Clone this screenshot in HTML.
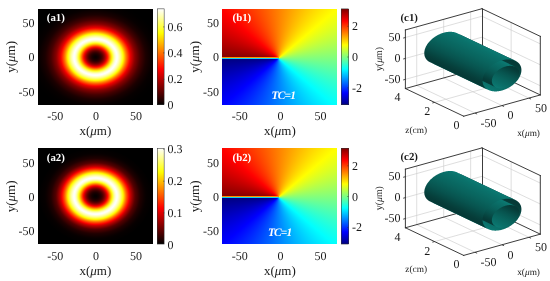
<!DOCTYPE html><html><head><meta charset="utf-8"><style>
html,body{margin:0;padding:0;background:#fff;}
body{width:550px;height:281px;position:relative;overflow:hidden;font-family:"Liberation Serif",serif;}
.pl{position:absolute;}
.cb{position:absolute;}
svg{position:absolute;left:0;top:0;}
text{font-family:"Liberation Serif",serif;}
text{stroke-width:0px;text-rendering:geometricPrecision;}
</style></head><body>
<div class="pl" style="left:38.00px;top:8.60px;width:115.00px;height:96.20px;background:radial-gradient(ellipse 76.94px 64.82px at 57.50px 48.10px,#070000 0.00%,#0c0000 1.56%,#130000 3.12%,#1d0000 4.69%,#2b0000 6.25%,#3f0000 7.81%,#590000 9.38%,#7b0000 10.94%,#a40000 12.50%,#d60000 14.06%,#ff1100 15.62%,#ff5000 17.19%,#ff9400 18.75%,#ffd700 20.31%,#ffff25 21.88%,#ffff7a 23.44%,#ffffbe 25.00%,#ffffeb 26.56%,#fffffe 28.12%,#ffffdc 29.69%,#ffffb1 31.25%,#ffff7e 32.81%,#ffff42 34.38%,#ffff04 35.94%,#ffcc00 37.50%,#ff9700 39.06%,#ff6800 40.62%,#ff3f00 42.19%,#ff1600 43.75%,#eb0000 45.31%,#d00000 46.88%,#b60000 48.44%,#9b0000 50.00%,#840000 51.56%,#750000 53.12%,#660000 54.69%,#570000 56.25%,#480000 57.81%,#3e0000 59.38%,#350000 60.94%,#2c0000 62.50%,#230000 64.06%,#1b0000 65.62%,#170000 67.19%,#130000 68.75%,#0f0000 70.31%,#0c0000 71.88%,#080000 73.44%,#060000 75.00%,#050000 76.56%,#040000 78.12%,#030000 79.69%,#020000 81.25%,#010000 82.81%,#010000 84.38%,#000000 85.94%,#000000 87.50%,#000000 89.06%,#000000 90.62%,#000000 92.19%,#000000 93.75%,#000000 95.31%,#000000 96.88%,#000000 98.44%,#000000 100.00%)"></div>
<div class="pl" style="left:222.40px;top:8.60px;width:114.90px;height:96.20px;overflow:hidden"><div style="position:absolute;left:0;top:0;width:142.00px;height:141.00px;transform-origin:0 0;transform:scale(0.80986,0.68227);background:conic-gradient(from 270deg at 69.64px 72.41px,#800000 0.00deg,#ff0000 45.00deg,#ffff00 135.00deg,#00ffff 225.00deg,#0000ff 315.00deg,#000080 360.00deg)"></div><div style="position:absolute;left:0;top:48.40px;width:56.40px;height:2.0px;background:linear-gradient(to bottom,#ff4c00 0%,#ffc700 45%,#1affe5 55%,#009eff 100%)"></div></div>
<div class="cb" style="left:157.20px;top:8.60px;width:7.20px;height:96.20px;background:linear-gradient(to top,#000000 0%,#ff0000 37.5%,#ffff00 75%,#ffffff 100%)"></div>
<div class="cb" style="left:341.40px;top:8.60px;width:7.20px;height:96.20px;background:linear-gradient(to top,#000080 0.0%,#0000ff 12.5%,#00ffff 37.5%,#ffff00 62.5%,#ff0000 87.5%,#800000 100.0%)"></div>
<div class="pl" style="left:38.00px;top:148.10px;width:115.00px;height:96.20px;background:radial-gradient(ellipse 76.94px 64.82px at 57.50px 48.10px,#050000 0.00%,#080000 1.56%,#0e0000 3.12%,#160000 4.69%,#220000 6.25%,#330000 7.81%,#4a0000 9.38%,#690000 10.94%,#900000 12.50%,#c10000 14.06%,#fa0000 15.62%,#ff3b00 17.19%,#ff8100 18.75%,#ffc800 20.31%,#ffff14 21.88%,#ffff6f 23.44%,#ffffb9 25.00%,#ffffea 26.56%,#fffffe 28.12%,#ffffdc 29.69%,#ffffb1 31.25%,#ffff7c 32.81%,#ffff3b 34.38%,#fffa00 35.94%,#ffbf00 37.50%,#ff8500 39.06%,#ff5100 40.62%,#ff2500 42.19%,#f70000 43.75%,#ca0000 45.31%,#aa0000 46.88%,#8c0000 48.44%,#6f0000 50.00%,#550000 51.56%,#480000 53.12%,#3c0000 54.69%,#2f0000 56.25%,#220000 57.81%,#1b0000 59.38%,#160000 60.94%,#100000 62.50%,#0b0000 64.06%,#070000 65.62%,#050000 67.19%,#040000 68.75%,#030000 70.31%,#020000 71.88%,#000000 73.44%,#000000 75.00%,#000000 76.56%,#000000 78.12%,#000000 79.69%,#000000 81.25%,#000000 82.81%,#000000 84.38%,#000000 85.94%,#000000 87.50%,#000000 89.06%,#000000 90.62%,#000000 92.19%,#000000 93.75%,#000000 95.31%,#000000 96.88%,#000000 98.44%,#000000 100.00%)"></div>
<div class="pl" style="left:222.40px;top:148.10px;width:114.90px;height:96.20px;overflow:hidden"><div style="position:absolute;left:0;top:0;width:142.00px;height:141.00px;transform-origin:0 0;transform:scale(0.80986,0.68227);background:conic-gradient(from 270deg at 69.64px 72.41px,#800000 0.00deg,#ff0000 45.00deg,#ffff00 135.00deg,#00ffff 225.00deg,#0000ff 315.00deg,#000080 360.00deg)"></div><div style="position:absolute;left:0;top:48.40px;width:56.40px;height:2.0px;background:linear-gradient(to bottom,#ff4c00 0%,#ffc700 45%,#1affe5 55%,#009eff 100%)"></div></div>
<div class="cb" style="left:157.20px;top:148.10px;width:7.20px;height:96.20px;background:linear-gradient(to top,#000000 0%,#ff0000 37.5%,#ffff00 75%,#ffffff 100%)"></div>
<div class="cb" style="left:341.40px;top:148.10px;width:7.20px;height:96.20px;background:linear-gradient(to top,#000080 0.0%,#0000ff 12.5%,#00ffff 37.5%,#ffff00 62.5%,#ff0000 87.5%,#800000 100.0%)"></div>
<svg width="550" height="281" viewBox="0 0 550 281">
<text x="34.60" y="27.40" text-anchor="end" font-size="12.00" font-weight="normal" font-style="normal" fill="#1a1a1a" stroke="#1a1a1a">50</text>
<text x="34.60" y="61.40" text-anchor="end" font-size="12.00" font-weight="normal" font-style="normal" fill="#1a1a1a" stroke="#1a1a1a">0</text>
<text x="34.60" y="95.50" text-anchor="end" font-size="12.00" font-weight="normal" font-style="normal" fill="#1a1a1a" stroke="#1a1a1a">-50</text>
<text x="55.30" y="120.20" text-anchor="middle" font-size="12.00" font-weight="normal" font-style="normal" fill="#1a1a1a" stroke="#1a1a1a">-50</text>
<text x="96.00" y="120.20" text-anchor="middle" font-size="12.00" font-weight="normal" font-style="normal" fill="#1a1a1a" stroke="#1a1a1a">0</text>
<text x="136.10" y="120.20" text-anchor="middle" font-size="12.00" font-weight="normal" font-style="normal" fill="#1a1a1a" stroke="#1a1a1a">50</text>
<text x="95.40" y="135.30" text-anchor="middle" font-size="13.00" font-weight="normal" font-style="normal" fill="#1a1a1a" stroke="#1a1a1a">x(<tspan font-style="italic">&#956;</tspan>m)</text>
<text x="14.70" y="56.90" text-anchor="middle" font-size="13.00" font-weight="normal" font-style="normal" fill="#1a1a1a" stroke="#1a1a1a" transform="rotate(-90 14.70 56.90)">y(<tspan font-style="italic">&#956;</tspan>m)</text>
<text x="219.10" y="27.40" text-anchor="end" font-size="12.00" font-weight="normal" font-style="normal" fill="#1a1a1a" stroke="#1a1a1a">50</text>
<text x="219.10" y="61.40" text-anchor="end" font-size="12.00" font-weight="normal" font-style="normal" fill="#1a1a1a" stroke="#1a1a1a">0</text>
<text x="219.10" y="95.50" text-anchor="end" font-size="12.00" font-weight="normal" font-style="normal" fill="#1a1a1a" stroke="#1a1a1a">-50</text>
<text x="239.80" y="120.20" text-anchor="middle" font-size="12.00" font-weight="normal" font-style="normal" fill="#1a1a1a" stroke="#1a1a1a">-50</text>
<text x="280.50" y="120.20" text-anchor="middle" font-size="12.00" font-weight="normal" font-style="normal" fill="#1a1a1a" stroke="#1a1a1a">0</text>
<text x="320.60" y="120.20" text-anchor="middle" font-size="12.00" font-weight="normal" font-style="normal" fill="#1a1a1a" stroke="#1a1a1a">50</text>
<text x="279.90" y="135.30" text-anchor="middle" font-size="13.00" font-weight="normal" font-style="normal" fill="#1a1a1a" stroke="#1a1a1a">x(<tspan font-style="italic">&#956;</tspan>m)</text>
<text x="199.20" y="56.90" text-anchor="middle" font-size="13.00" font-weight="normal" font-style="normal" fill="#1a1a1a" stroke="#1a1a1a" transform="rotate(-90 199.20 56.90)">y(<tspan font-style="italic">&#956;</tspan>m)</text>
<text x="167.60" y="30.80" text-anchor="start" font-size="12.00" font-weight="normal" font-style="normal" fill="#1a1a1a" stroke="#1a1a1a">0.6</text>
<text x="167.60" y="56.90" text-anchor="start" font-size="12.00" font-weight="normal" font-style="normal" fill="#1a1a1a" stroke="#1a1a1a">0.4</text>
<text x="167.60" y="83.30" text-anchor="start" font-size="12.00" font-weight="normal" font-style="normal" fill="#1a1a1a" stroke="#1a1a1a">0.2</text>
<text x="167.60" y="109.40" text-anchor="start" font-size="12.00" font-weight="normal" font-style="normal" fill="#1a1a1a" stroke="#1a1a1a">0</text>
<text x="352.00" y="30.30" text-anchor="start" font-size="12.00" font-weight="normal" font-style="normal" fill="#1a1a1a" stroke="#1a1a1a">2</text>
<text x="352.00" y="61.00" text-anchor="start" font-size="12.00" font-weight="normal" font-style="normal" fill="#1a1a1a" stroke="#1a1a1a">0</text>
<text x="352.00" y="91.80" text-anchor="start" font-size="12.00" font-weight="normal" font-style="normal" fill="#1a1a1a" stroke="#1a1a1a">-2</text>
<text x="46.80" y="21.00" text-anchor="start" font-size="10.80" font-weight="bold" font-style="normal" fill="#fff" stroke="#fff">(a1)</text>
<text x="232.60" y="21.00" text-anchor="start" font-size="10.80" font-weight="bold" font-style="normal" fill="#fff" stroke="#fff">(b1)</text>
<text x="400.50" y="20.70" text-anchor="start" font-size="10.80" font-weight="bold" font-style="normal" fill="#1a1a1a" stroke="#1a1a1a">(c1)</text>
<text x="271.50" y="99.00" text-anchor="start" font-size="11.40" font-weight="bold" font-style="italic" fill="#fff" stroke="#fff" letter-spacing="-0.8">TC=1</text>
<text x="34.60" y="166.90" text-anchor="end" font-size="12.00" font-weight="normal" font-style="normal" fill="#1a1a1a" stroke="#1a1a1a">50</text>
<text x="34.60" y="200.90" text-anchor="end" font-size="12.00" font-weight="normal" font-style="normal" fill="#1a1a1a" stroke="#1a1a1a">0</text>
<text x="34.60" y="235.00" text-anchor="end" font-size="12.00" font-weight="normal" font-style="normal" fill="#1a1a1a" stroke="#1a1a1a">-50</text>
<text x="55.30" y="259.70" text-anchor="middle" font-size="12.00" font-weight="normal" font-style="normal" fill="#1a1a1a" stroke="#1a1a1a">-50</text>
<text x="96.00" y="259.70" text-anchor="middle" font-size="12.00" font-weight="normal" font-style="normal" fill="#1a1a1a" stroke="#1a1a1a">0</text>
<text x="136.10" y="259.70" text-anchor="middle" font-size="12.00" font-weight="normal" font-style="normal" fill="#1a1a1a" stroke="#1a1a1a">50</text>
<text x="95.40" y="274.80" text-anchor="middle" font-size="13.00" font-weight="normal" font-style="normal" fill="#1a1a1a" stroke="#1a1a1a">x(<tspan font-style="italic">&#956;</tspan>m)</text>
<text x="14.70" y="196.40" text-anchor="middle" font-size="13.00" font-weight="normal" font-style="normal" fill="#1a1a1a" stroke="#1a1a1a" transform="rotate(-90 14.70 196.40)">y(<tspan font-style="italic">&#956;</tspan>m)</text>
<text x="219.10" y="166.90" text-anchor="end" font-size="12.00" font-weight="normal" font-style="normal" fill="#1a1a1a" stroke="#1a1a1a">50</text>
<text x="219.10" y="200.90" text-anchor="end" font-size="12.00" font-weight="normal" font-style="normal" fill="#1a1a1a" stroke="#1a1a1a">0</text>
<text x="219.10" y="235.00" text-anchor="end" font-size="12.00" font-weight="normal" font-style="normal" fill="#1a1a1a" stroke="#1a1a1a">-50</text>
<text x="239.80" y="259.70" text-anchor="middle" font-size="12.00" font-weight="normal" font-style="normal" fill="#1a1a1a" stroke="#1a1a1a">-50</text>
<text x="280.50" y="259.70" text-anchor="middle" font-size="12.00" font-weight="normal" font-style="normal" fill="#1a1a1a" stroke="#1a1a1a">0</text>
<text x="320.60" y="259.70" text-anchor="middle" font-size="12.00" font-weight="normal" font-style="normal" fill="#1a1a1a" stroke="#1a1a1a">50</text>
<text x="279.90" y="274.80" text-anchor="middle" font-size="13.00" font-weight="normal" font-style="normal" fill="#1a1a1a" stroke="#1a1a1a">x(<tspan font-style="italic">&#956;</tspan>m)</text>
<text x="199.20" y="196.40" text-anchor="middle" font-size="13.00" font-weight="normal" font-style="normal" fill="#1a1a1a" stroke="#1a1a1a" transform="rotate(-90 199.20 196.40)">y(<tspan font-style="italic">&#956;</tspan>m)</text>
<text x="167.60" y="153.10" text-anchor="start" font-size="12.00" font-weight="normal" font-style="normal" fill="#1a1a1a" stroke="#1a1a1a">0.3</text>
<text x="167.60" y="185.10" text-anchor="start" font-size="12.00" font-weight="normal" font-style="normal" fill="#1a1a1a" stroke="#1a1a1a">0.2</text>
<text x="167.60" y="216.80" text-anchor="start" font-size="12.00" font-weight="normal" font-style="normal" fill="#1a1a1a" stroke="#1a1a1a">0.1</text>
<text x="167.60" y="249.10" text-anchor="start" font-size="12.00" font-weight="normal" font-style="normal" fill="#1a1a1a" stroke="#1a1a1a">0</text>
<text x="352.00" y="169.80" text-anchor="start" font-size="12.00" font-weight="normal" font-style="normal" fill="#1a1a1a" stroke="#1a1a1a">2</text>
<text x="352.00" y="200.50" text-anchor="start" font-size="12.00" font-weight="normal" font-style="normal" fill="#1a1a1a" stroke="#1a1a1a">0</text>
<text x="352.00" y="231.30" text-anchor="start" font-size="12.00" font-weight="normal" font-style="normal" fill="#1a1a1a" stroke="#1a1a1a">-2</text>
<text x="46.80" y="160.50" text-anchor="start" font-size="10.80" font-weight="bold" font-style="normal" fill="#fff" stroke="#fff">(a2)</text>
<text x="232.60" y="160.50" text-anchor="start" font-size="10.80" font-weight="bold" font-style="normal" fill="#fff" stroke="#fff">(b2)</text>
<text x="400.50" y="160.20" text-anchor="start" font-size="10.80" font-weight="bold" font-style="normal" fill="#1a1a1a" stroke="#1a1a1a">(c2)</text>
<text x="267.90" y="236.30" text-anchor="start" font-size="11.40" font-weight="bold" font-style="italic" fill="#fff" stroke="#fff" letter-spacing="-0.8">TC=1</text>
<rect x="157.45" y="8.85" width="6.70" height="95.70" fill="none" stroke="#333" stroke-width="0.55"/>
<path d="M163.00 26.90H164.40M163.00 52.90H164.40M163.00 79.30H164.40M347.20 26.30H348.60M347.20 57.00H348.60M347.20 87.90H348.60" stroke="#333" stroke-width="0.5" fill="none"/>
<rect x="341.65" y="8.85" width="6.70" height="95.70" fill="none" stroke="#333" stroke-width="0.55"/>
<rect x="157.45" y="148.35" width="6.70" height="95.70" fill="none" stroke="#333" stroke-width="0.55"/>
<path d="M163.00 149.20H164.40M163.00 181.20H164.40M163.00 212.90H164.40M347.20 165.80H348.60M347.20 196.50H348.60M347.20 227.40H348.60" stroke="#333" stroke-width="0.5" fill="none"/>
<rect x="341.65" y="148.35" width="6.70" height="95.70" fill="none" stroke="#333" stroke-width="0.55"/>
<g><defs><linearGradient id="ag1" gradientUnits="userSpaceOnUse" x1="493.88" y1="92.57" x2="510.12" y2="58.31"><stop offset="0.0000" stop-color="#0b7d76"/><stop offset="0.0011" stop-color="#0b7c75"/><stop offset="0.0043" stop-color="#0b7b74"/><stop offset="0.0096" stop-color="#0b7a73"/><stop offset="0.0170" stop-color="#0b7972"/><stop offset="0.0265" stop-color="#0b7871"/><stop offset="0.0380" stop-color="#0b7770"/><stop offset="0.0515" stop-color="#0b766f"/><stop offset="0.0670" stop-color="#0b756e"/><stop offset="0.0842" stop-color="#0a746d"/><stop offset="0.1033" stop-color="#0a726b"/><stop offset="0.1241" stop-color="#0a716a"/><stop offset="0.1464" stop-color="#0a7069"/><stop offset="0.1703" stop-color="#0a6e68"/><stop offset="0.1956" stop-color="#0a6d67"/><stop offset="0.2222" stop-color="#0a6c65"/><stop offset="0.2500" stop-color="#0a6a64"/><stop offset="0.2788" stop-color="#096962"/><stop offset="0.3086" stop-color="#096761"/><stop offset="0.3392" stop-color="#09665f"/><stop offset="0.3706" stop-color="#09645e"/><stop offset="0.4024" stop-color="#09625c"/><stop offset="0.4347" stop-color="#09605a"/><stop offset="0.4673" stop-color="#085e58"/><stop offset="0.5000" stop-color="#085c56"/><stop offset="0.5327" stop-color="#085a54"/><stop offset="0.5652" stop-color="#085752"/><stop offset="0.5975" stop-color="#085550"/><stop offset="0.6294" stop-color="#07534e"/><stop offset="0.6607" stop-color="#07504b"/><stop offset="0.6913" stop-color="#074d49"/><stop offset="0.7211" stop-color="#074b46"/><stop offset="0.7500" stop-color="#064844"/><stop offset="0.7778" stop-color="#064641"/><stop offset="0.8044" stop-color="#06433f"/><stop offset="0.8296" stop-color="#06413d"/><stop offset="0.8535" stop-color="#063f3b"/><stop offset="0.8759" stop-color="#063d3a"/><stop offset="0.8967" stop-color="#053c38"/><stop offset="0.9157" stop-color="#053b38"/><stop offset="0.9330" stop-color="#053a37"/><stop offset="0.9484" stop-color="#053a37"/><stop offset="0.9619" stop-color="#053a37"/><stop offset="0.9735" stop-color="#053a37"/><stop offset="0.9830" stop-color="#053b37"/><stop offset="0.9904" stop-color="#053b38"/><stop offset="0.9957" stop-color="#053c38"/><stop offset="0.9989" stop-color="#053c39"/><stop offset="1.0000" stop-color="#063d3a"/></linearGradient><linearGradient id="ag2" gradientUnits="userSpaceOnUse" x1="496.25" y1="87.57" x2="507.75" y2="63.31"><stop offset="0.0000" stop-color="#0b7d76"/><stop offset="0.0011" stop-color="#0b7c75"/><stop offset="0.0043" stop-color="#0b7b74"/><stop offset="0.0096" stop-color="#0b7a73"/><stop offset="0.0170" stop-color="#0b7972"/><stop offset="0.0265" stop-color="#0b7871"/><stop offset="0.0380" stop-color="#0b7770"/><stop offset="0.0515" stop-color="#0b766f"/><stop offset="0.0670" stop-color="#0b756e"/><stop offset="0.0842" stop-color="#0a746d"/><stop offset="0.1033" stop-color="#0a726b"/><stop offset="0.1241" stop-color="#0a716a"/><stop offset="0.1464" stop-color="#0a7069"/><stop offset="0.1703" stop-color="#0a6e68"/><stop offset="0.1956" stop-color="#0a6d67"/><stop offset="0.2222" stop-color="#0a6c65"/><stop offset="0.2500" stop-color="#0a6a64"/><stop offset="0.2788" stop-color="#096962"/><stop offset="0.3086" stop-color="#096761"/><stop offset="0.3392" stop-color="#09665f"/><stop offset="0.3706" stop-color="#09645e"/><stop offset="0.4024" stop-color="#09625c"/><stop offset="0.4347" stop-color="#09605a"/><stop offset="0.4673" stop-color="#085e58"/><stop offset="0.5000" stop-color="#085c56"/><stop offset="0.5327" stop-color="#085a54"/><stop offset="0.5652" stop-color="#085752"/><stop offset="0.5975" stop-color="#085550"/><stop offset="0.6294" stop-color="#07534e"/><stop offset="0.6607" stop-color="#07504b"/><stop offset="0.6913" stop-color="#074d49"/><stop offset="0.7211" stop-color="#074b46"/><stop offset="0.7500" stop-color="#064844"/><stop offset="0.7778" stop-color="#064641"/><stop offset="0.8044" stop-color="#06433f"/><stop offset="0.8296" stop-color="#06413d"/><stop offset="0.8535" stop-color="#063f3b"/><stop offset="0.8759" stop-color="#063d3a"/><stop offset="0.8967" stop-color="#053c38"/><stop offset="0.9157" stop-color="#053b38"/><stop offset="0.9330" stop-color="#053a37"/><stop offset="0.9484" stop-color="#053a37"/><stop offset="0.9619" stop-color="#053a37"/><stop offset="0.9735" stop-color="#053a37"/><stop offset="0.9830" stop-color="#053b37"/><stop offset="0.9904" stop-color="#053b38"/><stop offset="0.9957" stop-color="#053c38"/><stop offset="0.9989" stop-color="#053c39"/><stop offset="1.0000" stop-color="#063d3a"/></linearGradient><linearGradient id="ag3" gradientUnits="userSpaceOnUse" x1="496.25" y1="87.57" x2="507.75" y2="63.31"><stop offset="0.0000" stop-color="#063d3a"/><stop offset="0.0011" stop-color="#053c39"/><stop offset="0.0043" stop-color="#053c38"/><stop offset="0.0096" stop-color="#053b38"/><stop offset="0.0170" stop-color="#053b37"/><stop offset="0.0265" stop-color="#053a37"/><stop offset="0.0381" stop-color="#053a37"/><stop offset="0.0516" stop-color="#053a37"/><stop offset="0.0670" stop-color="#053a37"/><stop offset="0.0843" stop-color="#053b38"/><stop offset="0.1033" stop-color="#053c38"/><stop offset="0.1241" stop-color="#063d3a"/><stop offset="0.1465" stop-color="#063f3b"/><stop offset="0.1704" stop-color="#06413d"/><stop offset="0.1956" stop-color="#06433f"/><stop offset="0.2222" stop-color="#064641"/><stop offset="0.2500" stop-color="#064844"/><stop offset="0.2789" stop-color="#074b46"/><stop offset="0.3087" stop-color="#074d49"/><stop offset="0.3393" stop-color="#07504b"/><stop offset="0.3706" stop-color="#07534e"/><stop offset="0.4025" stop-color="#085550"/><stop offset="0.4348" stop-color="#085752"/><stop offset="0.4673" stop-color="#085a54"/><stop offset="0.5000" stop-color="#085c56"/><stop offset="0.5327" stop-color="#085e58"/><stop offset="0.5653" stop-color="#09605a"/><stop offset="0.5976" stop-color="#09625c"/><stop offset="0.6294" stop-color="#09645e"/><stop offset="0.6608" stop-color="#09665f"/><stop offset="0.6914" stop-color="#096761"/><stop offset="0.7212" stop-color="#096962"/><stop offset="0.7500" stop-color="#0a6a64"/><stop offset="0.7778" stop-color="#0a6c65"/><stop offset="0.8044" stop-color="#0a6d67"/><stop offset="0.8297" stop-color="#0a6e68"/><stop offset="0.8536" stop-color="#0a7069"/><stop offset="0.8759" stop-color="#0a716a"/><stop offset="0.8967" stop-color="#0a726b"/><stop offset="0.9158" stop-color="#0a746d"/><stop offset="0.9330" stop-color="#0b756e"/><stop offset="0.9485" stop-color="#0b766f"/><stop offset="0.9620" stop-color="#0b7770"/><stop offset="0.9735" stop-color="#0b7871"/><stop offset="0.9830" stop-color="#0b7972"/><stop offset="0.9904" stop-color="#0b7a73"/><stop offset="0.9957" stop-color="#0b7b74"/><stop offset="0.9989" stop-color="#0b7c75"/><stop offset="1.0000" stop-color="#0b7d76"/></linearGradient><linearGradient id="ag4" gradientUnits="userSpaceOnUse" x1="493.88" y1="92.57" x2="510.12" y2="58.31"><stop offset="0.0000" stop-color="#063d3a"/><stop offset="0.0011" stop-color="#053c39"/><stop offset="0.0043" stop-color="#053c38"/><stop offset="0.0096" stop-color="#053b38"/><stop offset="0.0170" stop-color="#053b37"/><stop offset="0.0265" stop-color="#053a37"/><stop offset="0.0381" stop-color="#053a37"/><stop offset="0.0516" stop-color="#053a37"/><stop offset="0.0670" stop-color="#053a37"/><stop offset="0.0843" stop-color="#053b38"/><stop offset="0.1033" stop-color="#053c38"/><stop offset="0.1241" stop-color="#063d3a"/><stop offset="0.1465" stop-color="#063f3b"/><stop offset="0.1704" stop-color="#06413d"/><stop offset="0.1956" stop-color="#06433f"/><stop offset="0.2222" stop-color="#064641"/><stop offset="0.2500" stop-color="#064844"/><stop offset="0.2789" stop-color="#074b46"/><stop offset="0.3087" stop-color="#074d49"/><stop offset="0.3393" stop-color="#07504b"/><stop offset="0.3706" stop-color="#07534e"/><stop offset="0.4025" stop-color="#085550"/><stop offset="0.4348" stop-color="#085752"/><stop offset="0.4673" stop-color="#085a54"/><stop offset="0.5000" stop-color="#085c56"/><stop offset="0.5327" stop-color="#085e58"/><stop offset="0.5653" stop-color="#09605a"/><stop offset="0.5976" stop-color="#09625c"/><stop offset="0.6294" stop-color="#09645e"/><stop offset="0.6608" stop-color="#09665f"/><stop offset="0.6914" stop-color="#096761"/><stop offset="0.7212" stop-color="#096962"/><stop offset="0.7500" stop-color="#0a6a64"/><stop offset="0.7778" stop-color="#0a6c65"/><stop offset="0.8044" stop-color="#0a6d67"/><stop offset="0.8297" stop-color="#0a6e68"/><stop offset="0.8536" stop-color="#0a7069"/><stop offset="0.8759" stop-color="#0a716a"/><stop offset="0.8967" stop-color="#0a726b"/><stop offset="0.9158" stop-color="#0a746d"/><stop offset="0.9330" stop-color="#0b756e"/><stop offset="0.9485" stop-color="#0b766f"/><stop offset="0.9620" stop-color="#0b7770"/><stop offset="0.9735" stop-color="#0b7871"/><stop offset="0.9830" stop-color="#0b7972"/><stop offset="0.9904" stop-color="#0b7a73"/><stop offset="0.9957" stop-color="#0b7b74"/><stop offset="0.9989" stop-color="#0b7c75"/><stop offset="1.0000" stop-color="#0b7d76"/></linearGradient></defs><path d="M475.03 113.06L416.73 85.41M416.73 85.41L416.73 26.81M502.00 105.58L443.70 77.93M443.70 77.93L443.70 19.33M528.97 98.09L470.67 70.44M470.67 70.44L470.67 11.84M434.55 102.38L511.15 81.12M511.15 81.12L511.15 22.53M405.40 79.34L482.00 58.09M540.30 85.74L482.00 58.09M405.40 58.41L482.00 37.16M540.30 64.81L482.00 37.16M405.40 37.48L482.00 16.23M540.30 43.88L482.00 16.23" stroke="#cccccc" stroke-width="0.65" fill="none"/>
<path d="M405.40 88.55L482.00 67.30M482.00 67.30L540.30 94.95M482.50 67.30L482.50 8.70" stroke="#262626" stroke-width="0.9" fill="none"/>
<polygon points="430.19,62.36 430.43,62.47 430.68,62.58 430.94,62.69 431.19,62.78 431.45,62.88 431.72,62.97 431.99,63.06 432.26,63.14 432.54,63.21 432.81,63.29 433.10,63.35 433.38,63.42 433.67,63.47 433.96,63.53 434.26,63.57 434.55,63.62 434.86,63.66 435.16,63.69 435.46,63.72 435.77,63.74 436.08,63.76 436.40,63.78 436.71,63.79 437.03,63.79 437.35,63.79 437.67,63.78 437.99,63.77 438.32,63.76 438.64,63.74 438.97,63.71 439.30,63.69 439.63,63.65 439.96,63.61 440.30,63.57 440.63,63.52 440.97,63.46 441.30,63.41 441.64,63.34 441.98,63.28 442.31,63.20 442.65,63.13 442.99,63.04 443.33,62.96 443.67,62.87 444.01,62.77 444.35,62.67 444.68,62.56 445.02,62.45 445.36,62.34 445.70,62.22 446.03,62.10 446.37,61.97 446.71,61.84 447.04,61.71 447.37,61.57 447.71,61.42 448.04,61.27 448.37,61.12 448.70,60.96 449.02,60.80 449.35,60.64 449.67,60.47 449.99,60.30 450.31,60.12 450.63,59.94 450.95,59.76 451.26,59.57 451.57,59.38 451.88,59.19 452.18,58.99 452.49,58.79 452.79,58.58 453.09,58.38 453.38,58.16 453.67,57.95 453.96,57.73 454.25,57.51 454.53,57.29 454.81,57.06 455.09,56.83 455.36,56.60 455.63,56.37 455.90,56.13 456.16,55.89 456.42,55.65 456.67,55.40 456.92,55.16 457.17,54.91 457.41,54.66 457.65,54.40 457.88,54.15 458.11,53.89 458.34,53.63 458.56,53.37 458.77,53.11 458.98,52.84 459.19,52.58 459.39,52.31 459.59,52.04 459.78,51.77 459.97,51.50 460.15,51.23 460.33,50.96 460.50,50.68 460.67,50.41 460.83,50.13 460.99,49.85 461.14,49.58 461.29,49.30 461.43,49.02 461.56,48.74 461.69,48.46 461.82,48.18 461.94,47.91 462.05,47.63 462.16,47.35 462.26,47.07 462.36,46.79 462.45,46.51 462.54,46.23 462.61,45.95 462.69,45.68 462.76,45.40 462.82,45.12 462.88,44.85 462.93,44.58 462.97,44.30 463.01,44.03 463.04,43.76 463.07,43.49 463.09,43.22 463.11,42.95 463.12,42.69 463.12,42.43 463.12,42.16 463.11,41.90 463.09,41.64 463.07,41.39 463.05,41.13 463.02,40.88 462.98,40.63 462.94,40.38 462.89,40.13 462.83,39.89 462.77,39.65 462.70,39.41 462.63,39.17 462.55,38.94 462.47,38.71 462.38,38.48 462.28,38.25 462.18,38.03 462.07,37.81 461.96,37.59 461.84,37.38 461.72,37.17 461.59,36.96 461.45,36.76 461.31,36.56 461.17,36.36 461.02,36.16 460.86,35.97 460.70,35.79 460.53,35.61 460.36,35.43 460.19,35.25 460.00,35.08 459.82,34.91 459.63,34.75 459.43,34.59 459.23,34.43 459.02,34.28 458.81,34.13 458.60,33.99 458.38,33.85 458.15,33.71 457.92,33.58 457.69,33.46 457.45,33.33 457.21,33.22 515.51,60.87 515.75,60.98 515.99,61.11 516.22,61.23 516.45,61.36 516.68,61.50 516.90,61.64 517.11,61.78 517.32,61.93 517.53,62.08 517.73,62.24 517.93,62.40 518.12,62.56 518.30,62.73 518.49,62.90 518.66,63.08 518.83,63.26 519.00,63.44 519.16,63.62 519.32,63.81 519.47,64.01 519.61,64.21 519.75,64.41 519.89,64.61 520.02,64.82 520.14,65.03 520.26,65.24 520.37,65.46 520.48,65.68 520.58,65.90 520.68,66.13 520.77,66.36 520.85,66.59 520.93,66.82 521.00,67.06 521.07,67.30 521.13,67.54 521.19,67.78 521.24,68.03 521.28,68.28 521.32,68.53 521.35,68.78 521.37,69.04 521.39,69.29 521.41,69.55 521.42,69.81 521.42,70.08 521.42,70.34 521.41,70.60 521.39,70.87 521.37,71.14 521.34,71.41 521.31,71.68 521.27,71.95 521.23,72.23 521.18,72.50 521.12,72.77 521.06,73.05 520.99,73.33 520.91,73.60 520.84,73.88 520.75,74.16 520.66,74.44 520.56,74.72 520.46,75.00 520.35,75.28 520.24,75.56 520.12,75.83 519.99,76.11 519.86,76.39 519.73,76.67 519.59,76.95 519.44,77.23 519.29,77.50 519.13,77.78 518.97,78.06 518.80,78.33 518.63,78.61 518.45,78.88 518.27,79.15 518.08,79.42 517.89,79.69 517.69,79.96 517.49,80.23 517.28,80.49 517.07,80.76 516.86,81.02 516.64,81.28 516.41,81.54 516.18,81.80 515.95,82.05 515.71,82.31 515.47,82.56 515.22,82.81 514.97,83.05 514.72,83.30 514.46,83.54 514.20,83.78 513.93,84.02 513.66,84.25 513.39,84.48 513.11,84.71 512.83,84.94 512.55,85.16 512.26,85.38 511.97,85.60 511.68,85.81 511.39,86.03 511.09,86.23 510.79,86.44 510.48,86.64 510.18,86.84 509.87,87.03 509.56,87.22 509.25,87.41 508.93,87.59 508.61,87.77 508.29,87.95 507.97,88.12 507.65,88.29 507.32,88.45 507.00,88.61 506.67,88.77 506.34,88.92 506.01,89.07 505.67,89.22 505.34,89.36 505.01,89.49 504.67,89.62 504.33,89.75 504.00,89.87 503.66,89.99 503.32,90.10 502.98,90.21 502.65,90.32 502.31,90.42 501.97,90.52 501.63,90.61 501.29,90.69 500.95,90.78 500.61,90.85 500.28,90.93 499.94,90.99 499.60,91.06 499.27,91.11 498.93,91.17 498.60,91.22 498.26,91.26 497.93,91.30 497.60,91.34 497.27,91.36 496.94,91.39 496.62,91.41 496.29,91.42 495.97,91.43 495.65,91.44 495.33,91.44 495.01,91.44 494.70,91.43 494.38,91.41 494.07,91.39 493.76,91.37 493.46,91.34 493.16,91.31 492.85,91.27 492.56,91.22 492.26,91.18 491.97,91.12 491.68,91.07 491.40,91.00 491.11,90.94 490.84,90.86 490.56,90.79 490.29,90.71 490.02,90.62 489.75,90.53 489.49,90.43 489.24,90.34 488.98,90.23 488.73,90.12 488.49,90.01" fill="url(#ag1)"/>
<polygon points="434.13,58.11 434.30,58.19 434.48,58.27 434.66,58.34 434.84,58.41 435.03,58.48 435.21,58.54 435.40,58.60 435.60,58.66 435.79,58.71 435.99,58.77 436.19,58.81 436.39,58.86 436.60,58.90 436.80,58.94 437.01,58.97 437.22,59.00 437.43,59.03 437.65,59.05 437.87,59.07 438.08,59.09 438.30,59.10 438.53,59.11 438.75,59.12 438.97,59.12 439.20,59.12 439.43,59.12 439.66,59.11 439.89,59.10 440.12,59.09 440.35,59.07 440.58,59.05 440.82,59.02 441.05,59.00 441.29,58.97 441.53,58.93 441.76,58.89 442.00,58.85 442.24,58.81 442.48,58.76 442.72,58.71 442.96,58.65 443.20,58.59 443.44,58.53 443.68,58.47 443.92,58.40 444.16,58.33 444.40,58.25 444.64,58.18 444.88,58.10 445.12,58.01 445.35,57.93 445.59,57.84 445.83,57.74 446.07,57.65 446.30,57.55 446.54,57.44 446.77,57.34 447.01,57.23 447.24,57.12 447.47,57.01 447.70,56.89 447.93,56.77 448.16,56.65 448.38,56.52 448.61,56.40 448.83,56.27 449.05,56.13 449.27,56.00 449.49,55.86 449.71,55.72 449.92,55.58 450.14,55.43 450.35,55.29 450.56,55.14 450.77,54.99 450.97,54.83 451.17,54.68 451.37,54.52 451.57,54.36 451.77,54.20 451.96,54.03 452.15,53.87 452.34,53.70 452.52,53.53 452.71,53.36 452.89,53.18 453.06,53.01 453.24,52.83 453.41,52.65 453.58,52.47 453.74,52.29 453.91,52.11 454.07,51.93 454.22,51.74 454.38,51.56 454.53,51.37 454.67,51.18 454.82,50.99 454.95,50.80 455.09,50.61 455.22,50.42 455.35,50.23 455.48,50.03 455.60,49.84 455.72,49.64 455.83,49.45 455.95,49.25 456.05,49.06 456.16,48.86 456.26,48.66 456.35,48.46 456.45,48.27 456.53,48.07 456.62,47.87 456.70,47.67 456.78,47.48 456.85,47.28 456.92,47.08 456.98,46.88 457.04,46.69 457.10,46.49 457.15,46.29 457.20,46.10 457.24,45.90 457.28,45.71 457.32,45.51 457.35,45.32 457.38,45.13 457.40,44.93 457.42,44.74 457.44,44.55 457.45,44.36 457.45,44.18 457.46,43.99 457.45,43.80 457.45,43.62 457.44,43.44 457.42,43.25 457.41,43.07 457.38,42.89 457.36,42.72 457.32,42.54 457.29,42.37 457.25,42.19 457.21,42.02 457.16,41.85 457.11,41.68 457.05,41.52 456.99,41.35 456.93,41.19 456.86,41.03 456.79,40.88 456.71,40.72 456.63,40.57 456.55,40.41 456.46,40.27 456.37,40.12 456.28,39.97 456.18,39.83 456.07,39.69 455.97,39.55 455.86,39.42 455.74,39.29 455.62,39.16 455.50,39.03 455.38,38.91 455.25,38.79 455.12,38.67 454.98,38.55 454.84,38.44 454.70,38.33 454.55,38.22 454.40,38.11 454.25,38.01 454.10,37.91 453.94,37.82 453.78,37.73 453.61,37.64 453.44,37.55 453.27,37.47 515.22,66.84 515.39,66.93 515.55,67.01 515.72,67.10 515.88,67.20 516.04,67.29 516.20,67.39 516.35,67.49 516.50,67.60 516.64,67.71 516.79,67.82 516.92,67.93 517.06,68.04 517.19,68.16 517.32,68.29 517.45,68.41 517.57,68.54 517.69,68.67 517.80,68.80 517.91,68.93 518.02,69.07 518.12,69.21 518.22,69.35 518.31,69.50 518.41,69.64 518.49,69.79 518.58,69.94 518.66,70.10 518.73,70.25 518.80,70.41 518.87,70.57 518.94,70.73 519.00,70.90 519.05,71.06 519.10,71.23 519.15,71.40 519.19,71.57 519.23,71.74 519.27,71.92 519.30,72.09 519.33,72.27 519.35,72.45 519.37,72.63 519.38,72.81 519.39,73.00 519.40,73.18 519.40,73.37 519.40,73.55 519.39,73.74 519.38,73.93 519.36,74.12 519.35,74.31 519.32,74.50 519.29,74.70 519.26,74.89 519.23,75.08 519.19,75.28 519.14,75.48 519.09,75.67 519.04,75.87 518.99,76.06 518.92,76.26 518.86,76.46 518.79,76.66 518.72,76.85 518.64,77.05 518.56,77.25 518.48,77.45 518.39,77.64 518.30,77.84 518.20,78.04 518.10,78.24 518.00,78.43 517.89,78.63 517.78,78.83 517.66,79.02 517.55,79.22 517.42,79.41 517.30,79.60 517.17,79.80 517.04,79.99 516.90,80.18 516.76,80.37 516.62,80.56 516.47,80.75 516.32,80.94 516.17,81.12 516.01,81.31 515.85,81.49 515.69,81.67 515.52,81.85 515.35,82.03 515.18,82.21 515.01,82.39 514.83,82.56 514.65,82.73 514.47,82.91 514.28,83.08 514.09,83.24 513.90,83.41 513.71,83.57 513.52,83.74 513.32,83.90 513.12,84.05 512.91,84.21 512.71,84.36 512.50,84.52 512.29,84.67 512.08,84.81 511.87,84.96 511.65,85.10 511.44,85.24 511.22,85.38 511.00,85.51 510.78,85.65 510.55,85.78 510.33,85.90 510.10,86.03 509.87,86.15 509.64,86.27 509.41,86.39 509.18,86.50 508.95,86.61 508.72,86.72 508.48,86.82 508.25,86.92 508.01,87.02 507.77,87.12 507.54,87.21 507.30,87.30 507.06,87.39 506.82,87.47 506.58,87.55 506.34,87.63 506.10,87.71 505.86,87.78 505.62,87.85 505.38,87.91 505.14,87.97 504.90,88.03 504.66,88.08 504.42,88.14 504.18,88.18 503.94,88.23 503.71,88.27 503.47,88.31 503.23,88.34 503.00,88.37 502.76,88.40 502.53,88.43 502.29,88.45 502.06,88.47 501.83,88.48 501.60,88.49 501.37,88.50 501.14,88.50 500.92,88.50 500.69,88.50 500.47,88.49 500.25,88.48 500.03,88.47 499.81,88.45 499.59,88.43 499.38,88.41 499.17,88.38 498.96,88.35 498.75,88.31 498.54,88.28 498.34,88.24 498.13,88.19 497.93,88.14 497.74,88.09 497.54,88.04 497.35,87.98 497.16,87.92 496.97,87.86 496.78,87.79 496.60,87.72 496.42,87.64 496.25,87.57 496.07,87.49" fill="url(#ag2)"/>
<polygon points="453.27,37.47 453.10,37.39 452.92,37.31 452.74,37.24 452.56,37.17 452.37,37.10 452.19,37.03 452.00,36.97 451.80,36.92 451.61,36.86 451.41,36.81 451.21,36.76 451.01,36.72 450.80,36.68 450.60,36.64 450.39,36.61 450.18,36.57 449.97,36.55 449.75,36.52 449.53,36.50 449.32,36.49 449.10,36.47 448.87,36.46 448.65,36.46 448.43,36.45 448.20,36.45 447.97,36.46 447.74,36.46 447.51,36.47 447.28,36.49 447.05,36.51 446.82,36.53 446.58,36.55 446.35,36.58 446.11,36.61 445.87,36.65 445.64,36.68 445.40,36.72 445.16,36.77 444.92,36.82 444.68,36.87 444.44,36.92 444.20,36.98 443.96,37.04 443.72,37.11 443.48,37.18 443.24,37.25 443.00,37.32 442.76,37.40 442.52,37.48 442.28,37.56 442.05,37.65 441.81,37.74 441.57,37.83 441.33,37.93 441.10,38.03 440.86,38.13 440.63,38.24 440.39,38.34 440.16,38.46 439.93,38.57 439.70,38.69 439.47,38.80 439.24,38.93 439.02,39.05 438.79,39.18 438.57,39.31 438.35,39.44 438.13,39.58 437.91,39.71 437.69,39.85 437.48,40.00 437.26,40.14 437.05,40.29 436.84,40.44 436.63,40.59 436.43,40.74 436.23,40.90 436.03,41.06 435.83,41.22 435.63,41.38 435.44,41.54 435.25,41.71 435.06,41.88 434.88,42.05 434.69,42.22 434.51,42.39 434.34,42.57 434.16,42.74 433.99,42.92 433.82,43.10 433.66,43.28 433.49,43.46 433.33,43.65 433.18,43.83 433.02,44.02 432.87,44.21 432.73,44.39 432.58,44.58 432.45,44.77 432.31,44.96 432.18,45.16 432.05,45.35 431.92,45.54 431.80,45.74 431.68,45.93 431.57,46.13 431.45,46.32 431.35,46.52 431.24,46.72 431.14,46.91 431.05,47.11 430.95,47.31 430.87,47.51 430.78,47.70 430.70,47.90 430.62,48.10 430.55,48.30 430.48,48.50 430.42,48.69 430.36,48.89 430.30,49.09 430.25,49.28 430.20,49.48 430.16,49.67 430.12,49.87 430.08,50.06 430.05,50.26 430.02,50.45 430.00,50.64 429.98,50.83 429.96,51.02 429.95,51.21 429.95,51.40 429.94,51.59 429.95,51.77 429.95,51.96 429.96,52.14 429.98,52.32 429.99,52.50 430.02,52.68 430.04,52.86 430.08,53.04 430.11,53.21 430.15,53.38 430.19,53.55 430.24,53.72 430.29,53.89 430.35,54.06 430.41,54.22 430.47,54.38 430.54,54.54 430.61,54.70 430.69,54.86 430.77,55.01 430.85,55.16 430.94,55.31 431.03,55.46 431.12,55.60 431.22,55.74 431.33,55.88 431.43,56.02 431.54,56.16 431.66,56.29 431.78,56.42 431.90,56.54 432.02,56.67 432.15,56.79 432.28,56.91 432.42,57.03 432.56,57.14 432.70,57.25 432.85,57.36 433.00,57.46 433.15,57.56 433.30,57.66 433.46,57.76 433.62,57.85 433.79,57.94 433.96,58.03 434.13,58.11 496.07,87.49 495.90,87.40 495.73,87.32 495.57,87.23 495.41,87.13 495.25,87.04 495.09,86.94 494.94,86.84 494.79,86.73 494.64,86.63 494.50,86.52 494.36,86.40 494.23,86.29 494.09,86.17 493.97,86.05 493.84,85.92 493.72,85.80 493.60,85.67 493.49,85.53 493.38,85.40 493.27,85.26 493.17,85.12 493.07,84.98 492.97,84.84 492.88,84.69 492.79,84.54 492.71,84.39 492.63,84.23 492.55,84.08 492.48,83.92 492.41,83.76 492.35,83.60 492.29,83.44 492.24,83.27 492.18,83.10 492.14,82.93 492.09,82.76 492.05,82.59 492.02,82.41 491.99,82.24 491.96,82.06 491.94,81.88 491.92,81.70 491.91,81.52 491.90,81.33 491.89,81.15 491.89,80.96 491.89,80.78 491.90,80.59 491.91,80.40 491.92,80.21 491.94,80.02 491.97,79.83 491.99,79.63 492.03,79.44 492.06,79.25 492.10,79.05 492.15,78.86 492.19,78.66 492.25,78.46 492.30,78.27 492.36,78.07 492.43,77.87 492.50,77.68 492.57,77.48 492.64,77.28 492.73,77.08 492.81,76.88 492.90,76.69 492.99,76.49 493.09,76.29 493.19,76.10 493.29,75.90 493.40,75.70 493.51,75.51 493.62,75.31 493.74,75.12 493.86,74.92 493.99,74.73 494.12,74.53 494.25,74.34 494.39,74.15 494.53,73.96 494.67,73.77 494.82,73.58 494.97,73.40 495.12,73.21 495.28,73.03 495.44,72.84 495.60,72.66 495.76,72.48 495.93,72.30 496.10,72.12 496.28,71.95 496.46,71.77 496.64,71.60 496.82,71.43 497.00,71.26 497.19,71.09 497.38,70.92 497.58,70.76 497.77,70.60 497.97,70.44 498.17,70.28 498.37,70.12 498.58,69.97 498.79,69.82 498.99,69.67 499.21,69.52 499.42,69.37 499.63,69.23 499.85,69.09 500.07,68.95 500.29,68.82 500.51,68.69 500.74,68.56 500.96,68.43 501.19,68.30 501.41,68.18 501.64,68.06 501.87,67.95 502.11,67.83 502.34,67.72 502.57,67.61 502.81,67.51 503.04,67.41 503.28,67.31 503.51,67.21 503.75,67.12 503.99,67.03 504.23,66.94 504.47,66.86 504.71,66.78 504.95,66.70 505.19,66.63 505.43,66.55 505.67,66.49 505.91,66.42 506.15,66.36 506.39,66.30 506.63,66.25 506.87,66.20 507.10,66.15 507.34,66.10 507.58,66.06 507.82,66.02 508.05,65.99 508.29,65.96 508.53,65.93 508.76,65.91 508.99,65.88 509.23,65.87 509.46,65.85 509.69,65.84 509.92,65.84 510.14,65.83 510.37,65.83 510.59,65.83 510.82,65.84 511.04,65.85 511.26,65.86 511.48,65.88 511.69,65.90 511.91,65.93 512.12,65.95 512.33,65.98 512.54,66.02 512.75,66.06 512.95,66.10 513.15,66.14 513.35,66.19 513.55,66.24 513.75,66.29 513.94,66.35 514.13,66.41 514.32,66.48 514.50,66.54 514.69,66.61 514.86,66.69 515.04,66.76 515.22,66.84" fill="url(#ag3)"/>
<polygon points="457.21,33.22 456.97,33.10 456.72,32.99 456.46,32.89 456.21,32.79 455.95,32.70 455.68,32.61 455.41,32.52 455.14,32.44 454.86,32.36 454.59,32.29 454.30,32.22 454.02,32.16 453.73,32.10 453.44,32.05 453.14,32.00 452.85,31.96 452.54,31.92 452.24,31.89 451.94,31.86 451.63,31.83 451.32,31.81 451.00,31.80 450.69,31.79 450.37,31.79 450.05,31.79 449.73,31.79 449.41,31.80 449.08,31.82 448.76,31.84 448.43,31.86 448.10,31.89 447.77,31.92 447.44,31.96 447.10,32.01 446.77,32.06 446.43,32.11 446.10,32.17 445.76,32.23 445.42,32.30 445.09,32.37 444.75,32.45 444.41,32.53 444.07,32.62 443.73,32.71 443.39,32.81 443.05,32.91 442.72,33.01 442.38,33.12 442.04,33.24 441.70,33.35 441.37,33.48 441.03,33.60 440.69,33.73 440.36,33.87 440.03,34.01 439.69,34.15 439.36,34.30 439.03,34.46 438.70,34.61 438.38,34.77 438.05,34.94 437.73,35.11 437.41,35.28 437.09,35.45 436.77,35.63 436.45,35.82 436.14,36.00 435.83,36.20 435.52,36.39 435.22,36.59 434.91,36.79 434.61,36.99 434.31,37.20 434.02,37.41 433.73,37.63 433.44,37.84 433.15,38.06 432.87,38.29 432.59,38.51 432.31,38.74 432.04,38.97 431.77,39.21 431.50,39.45 431.24,39.68 430.98,39.93 430.73,40.17 430.48,40.42 430.23,40.67 429.99,40.92 429.75,41.17 429.52,41.43 429.29,41.68 429.06,41.94 428.84,42.20 428.63,42.47 428.42,42.73 428.21,43.00 428.01,43.26 427.81,43.53 427.62,43.80 427.43,44.07 427.25,44.35 427.07,44.62 426.90,44.89 426.73,45.17 426.57,45.44 426.41,45.72 426.26,46.00 426.11,46.28 425.97,46.55 425.84,46.83 425.71,47.11 425.58,47.39 425.46,47.67 425.35,47.95 425.24,48.23 425.14,48.51 425.04,48.79 424.95,49.07 424.86,49.34 424.79,49.62 424.71,49.90 424.64,50.17 424.58,50.45 424.52,50.73 424.47,51.00 424.43,51.27 424.39,51.54 424.36,51.82 424.33,52.09 424.31,52.35 424.29,52.62 424.28,52.89 424.28,53.15 424.28,53.41 424.29,53.67 424.31,53.93 424.33,54.19 424.35,54.44 424.38,54.70 424.42,54.95 424.46,55.20 424.51,55.44 424.57,55.69 424.63,55.93 424.70,56.17 424.77,56.40 424.85,56.64 424.93,56.87 425.02,57.10 425.12,57.32 425.22,57.55 425.33,57.77 425.44,57.98 425.56,58.20 425.68,58.41 425.81,58.62 425.95,58.82 426.09,59.02 426.23,59.22 426.38,59.41 426.54,59.60 426.70,59.79 426.87,59.97 427.04,60.15 427.21,60.33 427.40,60.50 427.58,60.66 427.77,60.83 427.97,60.99 428.17,61.14 428.38,61.30 428.59,61.44 428.80,61.59 429.02,61.73 429.25,61.86 429.48,61.99 429.71,62.12 429.95,62.24 430.19,62.36 488.49,90.01 488.25,89.89 488.01,89.77 487.78,89.64 487.55,89.51 487.32,89.38 487.10,89.24 486.89,89.09 486.68,88.95 486.47,88.79 486.27,88.64 486.07,88.48 485.88,88.31 485.70,88.15 485.51,87.98 485.34,87.80 485.17,87.62 485.00,87.44 484.84,87.25 484.68,87.06 484.53,86.87 484.39,86.67 484.25,86.47 484.11,86.27 483.98,86.06 483.86,85.85 483.74,85.63 483.63,85.42 483.52,85.20 483.42,84.97 483.32,84.75 483.23,84.52 483.15,84.29 483.07,84.05 483.00,83.82 482.93,83.58 482.87,83.34 482.81,83.09 482.76,82.85 482.72,82.60 482.68,82.35 482.65,82.09 482.63,81.84 482.61,81.58 482.59,81.32 482.58,81.06 482.58,80.80 482.58,80.54 482.59,80.27 482.61,80.00 482.63,79.74 482.66,79.47 482.69,79.19 482.73,78.92 482.77,78.65 482.82,78.38 482.88,78.10 482.94,77.82 483.01,77.55 483.09,77.27 483.16,76.99 483.25,76.72 483.34,76.44 483.44,76.16 483.54,75.88 483.65,75.60 483.76,75.32 483.88,75.04 484.01,74.76 484.14,74.48 484.27,74.20 484.41,73.93 484.56,73.65 484.71,73.37 484.87,73.09 485.03,72.82 485.20,72.54 485.37,72.27 485.55,72.00 485.73,71.72 485.92,71.45 486.11,71.18 486.31,70.91 486.51,70.65 486.72,70.38 486.93,70.12 487.14,69.85 487.36,69.59 487.59,69.33 487.82,69.08 488.05,68.82 488.29,68.57 488.53,68.32 488.78,68.07 489.03,67.82 489.28,67.58 489.54,67.33 489.80,67.10 490.07,66.86 490.34,66.62 490.61,66.39 490.89,66.16 491.17,65.94 491.45,65.71 491.74,65.49 492.03,65.28 492.32,65.06 492.61,64.85 492.91,64.64 493.21,64.44 493.52,64.24 493.82,64.04 494.13,63.85 494.44,63.65 494.75,63.47 495.07,63.28 495.39,63.10 495.71,62.93 496.03,62.76 496.35,62.59 496.68,62.42 497.00,62.26 497.33,62.11 497.66,61.95 497.99,61.80 498.33,61.66 498.66,61.52 498.99,61.38 499.33,61.25 499.67,61.13 500.00,61.00 500.34,60.89 500.68,60.77 501.02,60.66 501.35,60.56 501.69,60.46 502.03,60.36 502.37,60.27 502.71,60.18 503.05,60.10 503.39,60.02 503.72,59.95 504.06,59.88 504.40,59.82 504.73,59.76 505.07,59.71 505.40,59.66 505.74,59.61 506.07,59.57 506.40,59.54 506.73,59.51 507.06,59.49 507.38,59.47 507.71,59.45 508.03,59.44 508.35,59.44 508.67,59.44 508.99,59.44 509.30,59.45 509.62,59.46 509.93,59.48 510.24,59.51 510.54,59.54 510.84,59.57 511.15,59.61 511.44,59.65 511.74,59.70 512.03,59.75 512.32,59.81 512.60,59.87 512.89,59.94 513.16,60.01 513.44,60.09 513.71,60.17 513.98,60.26 514.25,60.35 514.51,60.44 514.76,60.54 515.02,60.64 515.27,60.75 515.51,60.87" fill="url(#ag4)"/>
<path d="M405.40 88.55L463.70 116.20M463.70 116.20L540.30 94.95M405.40 88.55L405.40 29.95M405.40 29.95L482.00 8.70M482.00 8.70L540.30 36.35M540.30 94.95L540.30 36.35" stroke="#262626" stroke-width="0.9" fill="none" stroke-linecap="square"/>
<path d="M405.40 79.34L403.18 79.96M405.40 58.41L403.18 59.03M405.40 37.48L403.18 38.10M434.55 102.38L432.33 102.99M475.03 113.06L477.11 114.04M502.00 105.58L504.08 106.56M528.97 98.09L531.05 99.08" stroke="#262626" stroke-width="0.8" fill="none"/>
<text x="400.60" y="40.90" text-anchor="end" font-size="12.00" font-weight="normal" fill="#1a1a1a" stroke="#1a1a1a">50</text>
<text x="400.60" y="62.00" text-anchor="end" font-size="12.00" font-weight="normal" fill="#1a1a1a" stroke="#1a1a1a">0</text>
<text x="400.60" y="82.70" text-anchor="end" font-size="12.00" font-weight="normal" fill="#1a1a1a" stroke="#1a1a1a">-50</text>
<text x="397.50" y="101.40" text-anchor="middle" font-size="12.00" font-weight="normal" fill="#1a1a1a" stroke="#1a1a1a">4</text>
<text x="427.30" y="115.40" text-anchor="middle" font-size="12.00" font-weight="normal" fill="#1a1a1a" stroke="#1a1a1a">2</text>
<text x="456.60" y="128.70" text-anchor="middle" font-size="12.00" font-weight="normal" fill="#1a1a1a" stroke="#1a1a1a">0</text>
<text x="488.40" y="126.90" text-anchor="middle" font-size="12.00" font-weight="normal" fill="#1a1a1a" stroke="#1a1a1a">-50</text>
<text x="510.40" y="119.40" text-anchor="middle" font-size="12.00" font-weight="normal" fill="#1a1a1a" stroke="#1a1a1a">0</text>
<text x="541.00" y="112.30" text-anchor="middle" font-size="12.00" font-weight="normal" fill="#1a1a1a" stroke="#1a1a1a">50</text>
<text x="416.20" y="133.20" text-anchor="middle" font-size="9.30" font-weight="normal" fill="#1a1a1a" stroke="#1a1a1a">z(cm)</text>
<text x="528.60" y="135.80" text-anchor="middle" font-size="9.30" font-weight="normal" fill="#1a1a1a" stroke="#1a1a1a">x(<tspan font-style="italic">&#956;</tspan>m)</text>
<text x="382.00" y="59.00" text-anchor="middle" font-size="9.90" font-weight="normal" fill="#1a1a1a" stroke="#1a1a1a" transform="rotate(-90 382.00 59.00)">y(<tspan font-style="italic">&#956;</tspan>m)</text></g>
<g transform="translate(0,139.20)"><defs><linearGradient id="bg5" gradientUnits="userSpaceOnUse" x1="493.88" y1="92.57" x2="510.12" y2="58.31"><stop offset="0.0000" stop-color="#0b7d76"/><stop offset="0.0011" stop-color="#0b7c75"/><stop offset="0.0043" stop-color="#0b7b74"/><stop offset="0.0096" stop-color="#0b7a73"/><stop offset="0.0170" stop-color="#0b7972"/><stop offset="0.0265" stop-color="#0b7871"/><stop offset="0.0380" stop-color="#0b7770"/><stop offset="0.0515" stop-color="#0b766f"/><stop offset="0.0670" stop-color="#0b756e"/><stop offset="0.0842" stop-color="#0a746d"/><stop offset="0.1033" stop-color="#0a726b"/><stop offset="0.1241" stop-color="#0a716a"/><stop offset="0.1464" stop-color="#0a7069"/><stop offset="0.1703" stop-color="#0a6e68"/><stop offset="0.1956" stop-color="#0a6d67"/><stop offset="0.2222" stop-color="#0a6c65"/><stop offset="0.2500" stop-color="#0a6a64"/><stop offset="0.2788" stop-color="#096962"/><stop offset="0.3086" stop-color="#096761"/><stop offset="0.3392" stop-color="#09665f"/><stop offset="0.3706" stop-color="#09645e"/><stop offset="0.4024" stop-color="#09625c"/><stop offset="0.4347" stop-color="#09605a"/><stop offset="0.4673" stop-color="#085e58"/><stop offset="0.5000" stop-color="#085c56"/><stop offset="0.5327" stop-color="#085a54"/><stop offset="0.5652" stop-color="#085752"/><stop offset="0.5975" stop-color="#085550"/><stop offset="0.6294" stop-color="#07534e"/><stop offset="0.6607" stop-color="#07504b"/><stop offset="0.6913" stop-color="#074d49"/><stop offset="0.7211" stop-color="#074b46"/><stop offset="0.7500" stop-color="#064844"/><stop offset="0.7778" stop-color="#064641"/><stop offset="0.8044" stop-color="#06433f"/><stop offset="0.8296" stop-color="#06413d"/><stop offset="0.8535" stop-color="#063f3b"/><stop offset="0.8759" stop-color="#063d3a"/><stop offset="0.8967" stop-color="#053c38"/><stop offset="0.9157" stop-color="#053b38"/><stop offset="0.9330" stop-color="#053a37"/><stop offset="0.9484" stop-color="#053a37"/><stop offset="0.9619" stop-color="#053a37"/><stop offset="0.9735" stop-color="#053a37"/><stop offset="0.9830" stop-color="#053b37"/><stop offset="0.9904" stop-color="#053b38"/><stop offset="0.9957" stop-color="#053c38"/><stop offset="0.9989" stop-color="#053c39"/><stop offset="1.0000" stop-color="#063d3a"/></linearGradient><linearGradient id="bg6" gradientUnits="userSpaceOnUse" x1="496.25" y1="87.57" x2="507.75" y2="63.31"><stop offset="0.0000" stop-color="#0b7d76"/><stop offset="0.0011" stop-color="#0b7c75"/><stop offset="0.0043" stop-color="#0b7b74"/><stop offset="0.0096" stop-color="#0b7a73"/><stop offset="0.0170" stop-color="#0b7972"/><stop offset="0.0265" stop-color="#0b7871"/><stop offset="0.0380" stop-color="#0b7770"/><stop offset="0.0515" stop-color="#0b766f"/><stop offset="0.0670" stop-color="#0b756e"/><stop offset="0.0842" stop-color="#0a746d"/><stop offset="0.1033" stop-color="#0a726b"/><stop offset="0.1241" stop-color="#0a716a"/><stop offset="0.1464" stop-color="#0a7069"/><stop offset="0.1703" stop-color="#0a6e68"/><stop offset="0.1956" stop-color="#0a6d67"/><stop offset="0.2222" stop-color="#0a6c65"/><stop offset="0.2500" stop-color="#0a6a64"/><stop offset="0.2788" stop-color="#096962"/><stop offset="0.3086" stop-color="#096761"/><stop offset="0.3392" stop-color="#09665f"/><stop offset="0.3706" stop-color="#09645e"/><stop offset="0.4024" stop-color="#09625c"/><stop offset="0.4347" stop-color="#09605a"/><stop offset="0.4673" stop-color="#085e58"/><stop offset="0.5000" stop-color="#085c56"/><stop offset="0.5327" stop-color="#085a54"/><stop offset="0.5652" stop-color="#085752"/><stop offset="0.5975" stop-color="#085550"/><stop offset="0.6294" stop-color="#07534e"/><stop offset="0.6607" stop-color="#07504b"/><stop offset="0.6913" stop-color="#074d49"/><stop offset="0.7211" stop-color="#074b46"/><stop offset="0.7500" stop-color="#064844"/><stop offset="0.7778" stop-color="#064641"/><stop offset="0.8044" stop-color="#06433f"/><stop offset="0.8296" stop-color="#06413d"/><stop offset="0.8535" stop-color="#063f3b"/><stop offset="0.8759" stop-color="#063d3a"/><stop offset="0.8967" stop-color="#053c38"/><stop offset="0.9157" stop-color="#053b38"/><stop offset="0.9330" stop-color="#053a37"/><stop offset="0.9484" stop-color="#053a37"/><stop offset="0.9619" stop-color="#053a37"/><stop offset="0.9735" stop-color="#053a37"/><stop offset="0.9830" stop-color="#053b37"/><stop offset="0.9904" stop-color="#053b38"/><stop offset="0.9957" stop-color="#053c38"/><stop offset="0.9989" stop-color="#053c39"/><stop offset="1.0000" stop-color="#063d3a"/></linearGradient><linearGradient id="bg7" gradientUnits="userSpaceOnUse" x1="496.25" y1="87.57" x2="507.75" y2="63.31"><stop offset="0.0000" stop-color="#063d3a"/><stop offset="0.0011" stop-color="#053c39"/><stop offset="0.0043" stop-color="#053c38"/><stop offset="0.0096" stop-color="#053b38"/><stop offset="0.0170" stop-color="#053b37"/><stop offset="0.0265" stop-color="#053a37"/><stop offset="0.0381" stop-color="#053a37"/><stop offset="0.0516" stop-color="#053a37"/><stop offset="0.0670" stop-color="#053a37"/><stop offset="0.0843" stop-color="#053b38"/><stop offset="0.1033" stop-color="#053c38"/><stop offset="0.1241" stop-color="#063d3a"/><stop offset="0.1465" stop-color="#063f3b"/><stop offset="0.1704" stop-color="#06413d"/><stop offset="0.1956" stop-color="#06433f"/><stop offset="0.2222" stop-color="#064641"/><stop offset="0.2500" stop-color="#064844"/><stop offset="0.2789" stop-color="#074b46"/><stop offset="0.3087" stop-color="#074d49"/><stop offset="0.3393" stop-color="#07504b"/><stop offset="0.3706" stop-color="#07534e"/><stop offset="0.4025" stop-color="#085550"/><stop offset="0.4348" stop-color="#085752"/><stop offset="0.4673" stop-color="#085a54"/><stop offset="0.5000" stop-color="#085c56"/><stop offset="0.5327" stop-color="#085e58"/><stop offset="0.5653" stop-color="#09605a"/><stop offset="0.5976" stop-color="#09625c"/><stop offset="0.6294" stop-color="#09645e"/><stop offset="0.6608" stop-color="#09665f"/><stop offset="0.6914" stop-color="#096761"/><stop offset="0.7212" stop-color="#096962"/><stop offset="0.7500" stop-color="#0a6a64"/><stop offset="0.7778" stop-color="#0a6c65"/><stop offset="0.8044" stop-color="#0a6d67"/><stop offset="0.8297" stop-color="#0a6e68"/><stop offset="0.8536" stop-color="#0a7069"/><stop offset="0.8759" stop-color="#0a716a"/><stop offset="0.8967" stop-color="#0a726b"/><stop offset="0.9158" stop-color="#0a746d"/><stop offset="0.9330" stop-color="#0b756e"/><stop offset="0.9485" stop-color="#0b766f"/><stop offset="0.9620" stop-color="#0b7770"/><stop offset="0.9735" stop-color="#0b7871"/><stop offset="0.9830" stop-color="#0b7972"/><stop offset="0.9904" stop-color="#0b7a73"/><stop offset="0.9957" stop-color="#0b7b74"/><stop offset="0.9989" stop-color="#0b7c75"/><stop offset="1.0000" stop-color="#0b7d76"/></linearGradient><linearGradient id="bg8" gradientUnits="userSpaceOnUse" x1="493.88" y1="92.57" x2="510.12" y2="58.31"><stop offset="0.0000" stop-color="#063d3a"/><stop offset="0.0011" stop-color="#053c39"/><stop offset="0.0043" stop-color="#053c38"/><stop offset="0.0096" stop-color="#053b38"/><stop offset="0.0170" stop-color="#053b37"/><stop offset="0.0265" stop-color="#053a37"/><stop offset="0.0381" stop-color="#053a37"/><stop offset="0.0516" stop-color="#053a37"/><stop offset="0.0670" stop-color="#053a37"/><stop offset="0.0843" stop-color="#053b38"/><stop offset="0.1033" stop-color="#053c38"/><stop offset="0.1241" stop-color="#063d3a"/><stop offset="0.1465" stop-color="#063f3b"/><stop offset="0.1704" stop-color="#06413d"/><stop offset="0.1956" stop-color="#06433f"/><stop offset="0.2222" stop-color="#064641"/><stop offset="0.2500" stop-color="#064844"/><stop offset="0.2789" stop-color="#074b46"/><stop offset="0.3087" stop-color="#074d49"/><stop offset="0.3393" stop-color="#07504b"/><stop offset="0.3706" stop-color="#07534e"/><stop offset="0.4025" stop-color="#085550"/><stop offset="0.4348" stop-color="#085752"/><stop offset="0.4673" stop-color="#085a54"/><stop offset="0.5000" stop-color="#085c56"/><stop offset="0.5327" stop-color="#085e58"/><stop offset="0.5653" stop-color="#09605a"/><stop offset="0.5976" stop-color="#09625c"/><stop offset="0.6294" stop-color="#09645e"/><stop offset="0.6608" stop-color="#09665f"/><stop offset="0.6914" stop-color="#096761"/><stop offset="0.7212" stop-color="#096962"/><stop offset="0.7500" stop-color="#0a6a64"/><stop offset="0.7778" stop-color="#0a6c65"/><stop offset="0.8044" stop-color="#0a6d67"/><stop offset="0.8297" stop-color="#0a6e68"/><stop offset="0.8536" stop-color="#0a7069"/><stop offset="0.8759" stop-color="#0a716a"/><stop offset="0.8967" stop-color="#0a726b"/><stop offset="0.9158" stop-color="#0a746d"/><stop offset="0.9330" stop-color="#0b756e"/><stop offset="0.9485" stop-color="#0b766f"/><stop offset="0.9620" stop-color="#0b7770"/><stop offset="0.9735" stop-color="#0b7871"/><stop offset="0.9830" stop-color="#0b7972"/><stop offset="0.9904" stop-color="#0b7a73"/><stop offset="0.9957" stop-color="#0b7b74"/><stop offset="0.9989" stop-color="#0b7c75"/><stop offset="1.0000" stop-color="#0b7d76"/></linearGradient></defs><path d="M475.03 113.06L416.73 85.41M416.73 85.41L416.73 26.81M502.00 105.58L443.70 77.93M443.70 77.93L443.70 19.33M528.97 98.09L470.67 70.44M470.67 70.44L470.67 11.84M434.55 102.38L511.15 81.12M511.15 81.12L511.15 22.53M405.40 79.34L482.00 58.09M540.30 85.74L482.00 58.09M405.40 58.41L482.00 37.16M540.30 64.81L482.00 37.16M405.40 37.48L482.00 16.23M540.30 43.88L482.00 16.23" stroke="#cccccc" stroke-width="0.65" fill="none"/>
<path d="M405.40 88.55L482.00 67.30M482.00 67.30L540.30 94.95M482.50 67.30L482.50 8.70" stroke="#262626" stroke-width="0.9" fill="none"/>
<polygon points="430.19,62.36 430.43,62.47 430.68,62.58 430.94,62.69 431.19,62.78 431.45,62.88 431.72,62.97 431.99,63.06 432.26,63.14 432.54,63.21 432.81,63.29 433.10,63.35 433.38,63.42 433.67,63.47 433.96,63.53 434.26,63.57 434.55,63.62 434.86,63.66 435.16,63.69 435.46,63.72 435.77,63.74 436.08,63.76 436.40,63.78 436.71,63.79 437.03,63.79 437.35,63.79 437.67,63.78 437.99,63.77 438.32,63.76 438.64,63.74 438.97,63.71 439.30,63.69 439.63,63.65 439.96,63.61 440.30,63.57 440.63,63.52 440.97,63.46 441.30,63.41 441.64,63.34 441.98,63.28 442.31,63.20 442.65,63.13 442.99,63.04 443.33,62.96 443.67,62.87 444.01,62.77 444.35,62.67 444.68,62.56 445.02,62.45 445.36,62.34 445.70,62.22 446.03,62.10 446.37,61.97 446.71,61.84 447.04,61.71 447.37,61.57 447.71,61.42 448.04,61.27 448.37,61.12 448.70,60.96 449.02,60.80 449.35,60.64 449.67,60.47 449.99,60.30 450.31,60.12 450.63,59.94 450.95,59.76 451.26,59.57 451.57,59.38 451.88,59.19 452.18,58.99 452.49,58.79 452.79,58.58 453.09,58.38 453.38,58.16 453.67,57.95 453.96,57.73 454.25,57.51 454.53,57.29 454.81,57.06 455.09,56.83 455.36,56.60 455.63,56.37 455.90,56.13 456.16,55.89 456.42,55.65 456.67,55.40 456.92,55.16 457.17,54.91 457.41,54.66 457.65,54.40 457.88,54.15 458.11,53.89 458.34,53.63 458.56,53.37 458.77,53.11 458.98,52.84 459.19,52.58 459.39,52.31 459.59,52.04 459.78,51.77 459.97,51.50 460.15,51.23 460.33,50.96 460.50,50.68 460.67,50.41 460.83,50.13 460.99,49.85 461.14,49.58 461.29,49.30 461.43,49.02 461.56,48.74 461.69,48.46 461.82,48.18 461.94,47.91 462.05,47.63 462.16,47.35 462.26,47.07 462.36,46.79 462.45,46.51 462.54,46.23 462.61,45.95 462.69,45.68 462.76,45.40 462.82,45.12 462.88,44.85 462.93,44.58 462.97,44.30 463.01,44.03 463.04,43.76 463.07,43.49 463.09,43.22 463.11,42.95 463.12,42.69 463.12,42.43 463.12,42.16 463.11,41.90 463.09,41.64 463.07,41.39 463.05,41.13 463.02,40.88 462.98,40.63 462.94,40.38 462.89,40.13 462.83,39.89 462.77,39.65 462.70,39.41 462.63,39.17 462.55,38.94 462.47,38.71 462.38,38.48 462.28,38.25 462.18,38.03 462.07,37.81 461.96,37.59 461.84,37.38 461.72,37.17 461.59,36.96 461.45,36.76 461.31,36.56 461.17,36.36 461.02,36.16 460.86,35.97 460.70,35.79 460.53,35.61 460.36,35.43 460.19,35.25 460.00,35.08 459.82,34.91 459.63,34.75 459.43,34.59 459.23,34.43 459.02,34.28 458.81,34.13 458.60,33.99 458.38,33.85 458.15,33.71 457.92,33.58 457.69,33.46 457.45,33.33 457.21,33.22 515.51,60.87 515.75,60.98 515.99,61.11 516.22,61.23 516.45,61.36 516.68,61.50 516.90,61.64 517.11,61.78 517.32,61.93 517.53,62.08 517.73,62.24 517.93,62.40 518.12,62.56 518.30,62.73 518.49,62.90 518.66,63.08 518.83,63.26 519.00,63.44 519.16,63.62 519.32,63.81 519.47,64.01 519.61,64.21 519.75,64.41 519.89,64.61 520.02,64.82 520.14,65.03 520.26,65.24 520.37,65.46 520.48,65.68 520.58,65.90 520.68,66.13 520.77,66.36 520.85,66.59 520.93,66.82 521.00,67.06 521.07,67.30 521.13,67.54 521.19,67.78 521.24,68.03 521.28,68.28 521.32,68.53 521.35,68.78 521.37,69.04 521.39,69.29 521.41,69.55 521.42,69.81 521.42,70.08 521.42,70.34 521.41,70.60 521.39,70.87 521.37,71.14 521.34,71.41 521.31,71.68 521.27,71.95 521.23,72.23 521.18,72.50 521.12,72.77 521.06,73.05 520.99,73.33 520.91,73.60 520.84,73.88 520.75,74.16 520.66,74.44 520.56,74.72 520.46,75.00 520.35,75.28 520.24,75.56 520.12,75.83 519.99,76.11 519.86,76.39 519.73,76.67 519.59,76.95 519.44,77.23 519.29,77.50 519.13,77.78 518.97,78.06 518.80,78.33 518.63,78.61 518.45,78.88 518.27,79.15 518.08,79.42 517.89,79.69 517.69,79.96 517.49,80.23 517.28,80.49 517.07,80.76 516.86,81.02 516.64,81.28 516.41,81.54 516.18,81.80 515.95,82.05 515.71,82.31 515.47,82.56 515.22,82.81 514.97,83.05 514.72,83.30 514.46,83.54 514.20,83.78 513.93,84.02 513.66,84.25 513.39,84.48 513.11,84.71 512.83,84.94 512.55,85.16 512.26,85.38 511.97,85.60 511.68,85.81 511.39,86.03 511.09,86.23 510.79,86.44 510.48,86.64 510.18,86.84 509.87,87.03 509.56,87.22 509.25,87.41 508.93,87.59 508.61,87.77 508.29,87.95 507.97,88.12 507.65,88.29 507.32,88.45 507.00,88.61 506.67,88.77 506.34,88.92 506.01,89.07 505.67,89.22 505.34,89.36 505.01,89.49 504.67,89.62 504.33,89.75 504.00,89.87 503.66,89.99 503.32,90.10 502.98,90.21 502.65,90.32 502.31,90.42 501.97,90.52 501.63,90.61 501.29,90.69 500.95,90.78 500.61,90.85 500.28,90.93 499.94,90.99 499.60,91.06 499.27,91.11 498.93,91.17 498.60,91.22 498.26,91.26 497.93,91.30 497.60,91.34 497.27,91.36 496.94,91.39 496.62,91.41 496.29,91.42 495.97,91.43 495.65,91.44 495.33,91.44 495.01,91.44 494.70,91.43 494.38,91.41 494.07,91.39 493.76,91.37 493.46,91.34 493.16,91.31 492.85,91.27 492.56,91.22 492.26,91.18 491.97,91.12 491.68,91.07 491.40,91.00 491.11,90.94 490.84,90.86 490.56,90.79 490.29,90.71 490.02,90.62 489.75,90.53 489.49,90.43 489.24,90.34 488.98,90.23 488.73,90.12 488.49,90.01" fill="url(#bg5)"/>
<polygon points="434.13,58.11 434.30,58.19 434.48,58.27 434.66,58.34 434.84,58.41 435.03,58.48 435.21,58.54 435.40,58.60 435.60,58.66 435.79,58.71 435.99,58.77 436.19,58.81 436.39,58.86 436.60,58.90 436.80,58.94 437.01,58.97 437.22,59.00 437.43,59.03 437.65,59.05 437.87,59.07 438.08,59.09 438.30,59.10 438.53,59.11 438.75,59.12 438.97,59.12 439.20,59.12 439.43,59.12 439.66,59.11 439.89,59.10 440.12,59.09 440.35,59.07 440.58,59.05 440.82,59.02 441.05,59.00 441.29,58.97 441.53,58.93 441.76,58.89 442.00,58.85 442.24,58.81 442.48,58.76 442.72,58.71 442.96,58.65 443.20,58.59 443.44,58.53 443.68,58.47 443.92,58.40 444.16,58.33 444.40,58.25 444.64,58.18 444.88,58.10 445.12,58.01 445.35,57.93 445.59,57.84 445.83,57.74 446.07,57.65 446.30,57.55 446.54,57.44 446.77,57.34 447.01,57.23 447.24,57.12 447.47,57.01 447.70,56.89 447.93,56.77 448.16,56.65 448.38,56.52 448.61,56.40 448.83,56.27 449.05,56.13 449.27,56.00 449.49,55.86 449.71,55.72 449.92,55.58 450.14,55.43 450.35,55.29 450.56,55.14 450.77,54.99 450.97,54.83 451.17,54.68 451.37,54.52 451.57,54.36 451.77,54.20 451.96,54.03 452.15,53.87 452.34,53.70 452.52,53.53 452.71,53.36 452.89,53.18 453.06,53.01 453.24,52.83 453.41,52.65 453.58,52.47 453.74,52.29 453.91,52.11 454.07,51.93 454.22,51.74 454.38,51.56 454.53,51.37 454.67,51.18 454.82,50.99 454.95,50.80 455.09,50.61 455.22,50.42 455.35,50.23 455.48,50.03 455.60,49.84 455.72,49.64 455.83,49.45 455.95,49.25 456.05,49.06 456.16,48.86 456.26,48.66 456.35,48.46 456.45,48.27 456.53,48.07 456.62,47.87 456.70,47.67 456.78,47.48 456.85,47.28 456.92,47.08 456.98,46.88 457.04,46.69 457.10,46.49 457.15,46.29 457.20,46.10 457.24,45.90 457.28,45.71 457.32,45.51 457.35,45.32 457.38,45.13 457.40,44.93 457.42,44.74 457.44,44.55 457.45,44.36 457.45,44.18 457.46,43.99 457.45,43.80 457.45,43.62 457.44,43.44 457.42,43.25 457.41,43.07 457.38,42.89 457.36,42.72 457.32,42.54 457.29,42.37 457.25,42.19 457.21,42.02 457.16,41.85 457.11,41.68 457.05,41.52 456.99,41.35 456.93,41.19 456.86,41.03 456.79,40.88 456.71,40.72 456.63,40.57 456.55,40.41 456.46,40.27 456.37,40.12 456.28,39.97 456.18,39.83 456.07,39.69 455.97,39.55 455.86,39.42 455.74,39.29 455.62,39.16 455.50,39.03 455.38,38.91 455.25,38.79 455.12,38.67 454.98,38.55 454.84,38.44 454.70,38.33 454.55,38.22 454.40,38.11 454.25,38.01 454.10,37.91 453.94,37.82 453.78,37.73 453.61,37.64 453.44,37.55 453.27,37.47 515.22,66.84 515.39,66.93 515.55,67.01 515.72,67.10 515.88,67.20 516.04,67.29 516.20,67.39 516.35,67.49 516.50,67.60 516.64,67.71 516.79,67.82 516.92,67.93 517.06,68.04 517.19,68.16 517.32,68.29 517.45,68.41 517.57,68.54 517.69,68.67 517.80,68.80 517.91,68.93 518.02,69.07 518.12,69.21 518.22,69.35 518.31,69.50 518.41,69.64 518.49,69.79 518.58,69.94 518.66,70.10 518.73,70.25 518.80,70.41 518.87,70.57 518.94,70.73 519.00,70.90 519.05,71.06 519.10,71.23 519.15,71.40 519.19,71.57 519.23,71.74 519.27,71.92 519.30,72.09 519.33,72.27 519.35,72.45 519.37,72.63 519.38,72.81 519.39,73.00 519.40,73.18 519.40,73.37 519.40,73.55 519.39,73.74 519.38,73.93 519.36,74.12 519.35,74.31 519.32,74.50 519.29,74.70 519.26,74.89 519.23,75.08 519.19,75.28 519.14,75.48 519.09,75.67 519.04,75.87 518.99,76.06 518.92,76.26 518.86,76.46 518.79,76.66 518.72,76.85 518.64,77.05 518.56,77.25 518.48,77.45 518.39,77.64 518.30,77.84 518.20,78.04 518.10,78.24 518.00,78.43 517.89,78.63 517.78,78.83 517.66,79.02 517.55,79.22 517.42,79.41 517.30,79.60 517.17,79.80 517.04,79.99 516.90,80.18 516.76,80.37 516.62,80.56 516.47,80.75 516.32,80.94 516.17,81.12 516.01,81.31 515.85,81.49 515.69,81.67 515.52,81.85 515.35,82.03 515.18,82.21 515.01,82.39 514.83,82.56 514.65,82.73 514.47,82.91 514.28,83.08 514.09,83.24 513.90,83.41 513.71,83.57 513.52,83.74 513.32,83.90 513.12,84.05 512.91,84.21 512.71,84.36 512.50,84.52 512.29,84.67 512.08,84.81 511.87,84.96 511.65,85.10 511.44,85.24 511.22,85.38 511.00,85.51 510.78,85.65 510.55,85.78 510.33,85.90 510.10,86.03 509.87,86.15 509.64,86.27 509.41,86.39 509.18,86.50 508.95,86.61 508.72,86.72 508.48,86.82 508.25,86.92 508.01,87.02 507.77,87.12 507.54,87.21 507.30,87.30 507.06,87.39 506.82,87.47 506.58,87.55 506.34,87.63 506.10,87.71 505.86,87.78 505.62,87.85 505.38,87.91 505.14,87.97 504.90,88.03 504.66,88.08 504.42,88.14 504.18,88.18 503.94,88.23 503.71,88.27 503.47,88.31 503.23,88.34 503.00,88.37 502.76,88.40 502.53,88.43 502.29,88.45 502.06,88.47 501.83,88.48 501.60,88.49 501.37,88.50 501.14,88.50 500.92,88.50 500.69,88.50 500.47,88.49 500.25,88.48 500.03,88.47 499.81,88.45 499.59,88.43 499.38,88.41 499.17,88.38 498.96,88.35 498.75,88.31 498.54,88.28 498.34,88.24 498.13,88.19 497.93,88.14 497.74,88.09 497.54,88.04 497.35,87.98 497.16,87.92 496.97,87.86 496.78,87.79 496.60,87.72 496.42,87.64 496.25,87.57 496.07,87.49" fill="url(#bg6)"/>
<polygon points="453.27,37.47 453.10,37.39 452.92,37.31 452.74,37.24 452.56,37.17 452.37,37.10 452.19,37.03 452.00,36.97 451.80,36.92 451.61,36.86 451.41,36.81 451.21,36.76 451.01,36.72 450.80,36.68 450.60,36.64 450.39,36.61 450.18,36.57 449.97,36.55 449.75,36.52 449.53,36.50 449.32,36.49 449.10,36.47 448.87,36.46 448.65,36.46 448.43,36.45 448.20,36.45 447.97,36.46 447.74,36.46 447.51,36.47 447.28,36.49 447.05,36.51 446.82,36.53 446.58,36.55 446.35,36.58 446.11,36.61 445.87,36.65 445.64,36.68 445.40,36.72 445.16,36.77 444.92,36.82 444.68,36.87 444.44,36.92 444.20,36.98 443.96,37.04 443.72,37.11 443.48,37.18 443.24,37.25 443.00,37.32 442.76,37.40 442.52,37.48 442.28,37.56 442.05,37.65 441.81,37.74 441.57,37.83 441.33,37.93 441.10,38.03 440.86,38.13 440.63,38.24 440.39,38.34 440.16,38.46 439.93,38.57 439.70,38.69 439.47,38.80 439.24,38.93 439.02,39.05 438.79,39.18 438.57,39.31 438.35,39.44 438.13,39.58 437.91,39.71 437.69,39.85 437.48,40.00 437.26,40.14 437.05,40.29 436.84,40.44 436.63,40.59 436.43,40.74 436.23,40.90 436.03,41.06 435.83,41.22 435.63,41.38 435.44,41.54 435.25,41.71 435.06,41.88 434.88,42.05 434.69,42.22 434.51,42.39 434.34,42.57 434.16,42.74 433.99,42.92 433.82,43.10 433.66,43.28 433.49,43.46 433.33,43.65 433.18,43.83 433.02,44.02 432.87,44.21 432.73,44.39 432.58,44.58 432.45,44.77 432.31,44.96 432.18,45.16 432.05,45.35 431.92,45.54 431.80,45.74 431.68,45.93 431.57,46.13 431.45,46.32 431.35,46.52 431.24,46.72 431.14,46.91 431.05,47.11 430.95,47.31 430.87,47.51 430.78,47.70 430.70,47.90 430.62,48.10 430.55,48.30 430.48,48.50 430.42,48.69 430.36,48.89 430.30,49.09 430.25,49.28 430.20,49.48 430.16,49.67 430.12,49.87 430.08,50.06 430.05,50.26 430.02,50.45 430.00,50.64 429.98,50.83 429.96,51.02 429.95,51.21 429.95,51.40 429.94,51.59 429.95,51.77 429.95,51.96 429.96,52.14 429.98,52.32 429.99,52.50 430.02,52.68 430.04,52.86 430.08,53.04 430.11,53.21 430.15,53.38 430.19,53.55 430.24,53.72 430.29,53.89 430.35,54.06 430.41,54.22 430.47,54.38 430.54,54.54 430.61,54.70 430.69,54.86 430.77,55.01 430.85,55.16 430.94,55.31 431.03,55.46 431.12,55.60 431.22,55.74 431.33,55.88 431.43,56.02 431.54,56.16 431.66,56.29 431.78,56.42 431.90,56.54 432.02,56.67 432.15,56.79 432.28,56.91 432.42,57.03 432.56,57.14 432.70,57.25 432.85,57.36 433.00,57.46 433.15,57.56 433.30,57.66 433.46,57.76 433.62,57.85 433.79,57.94 433.96,58.03 434.13,58.11 496.07,87.49 495.90,87.40 495.73,87.32 495.57,87.23 495.41,87.13 495.25,87.04 495.09,86.94 494.94,86.84 494.79,86.73 494.64,86.63 494.50,86.52 494.36,86.40 494.23,86.29 494.09,86.17 493.97,86.05 493.84,85.92 493.72,85.80 493.60,85.67 493.49,85.53 493.38,85.40 493.27,85.26 493.17,85.12 493.07,84.98 492.97,84.84 492.88,84.69 492.79,84.54 492.71,84.39 492.63,84.23 492.55,84.08 492.48,83.92 492.41,83.76 492.35,83.60 492.29,83.44 492.24,83.27 492.18,83.10 492.14,82.93 492.09,82.76 492.05,82.59 492.02,82.41 491.99,82.24 491.96,82.06 491.94,81.88 491.92,81.70 491.91,81.52 491.90,81.33 491.89,81.15 491.89,80.96 491.89,80.78 491.90,80.59 491.91,80.40 491.92,80.21 491.94,80.02 491.97,79.83 491.99,79.63 492.03,79.44 492.06,79.25 492.10,79.05 492.15,78.86 492.19,78.66 492.25,78.46 492.30,78.27 492.36,78.07 492.43,77.87 492.50,77.68 492.57,77.48 492.64,77.28 492.73,77.08 492.81,76.88 492.90,76.69 492.99,76.49 493.09,76.29 493.19,76.10 493.29,75.90 493.40,75.70 493.51,75.51 493.62,75.31 493.74,75.12 493.86,74.92 493.99,74.73 494.12,74.53 494.25,74.34 494.39,74.15 494.53,73.96 494.67,73.77 494.82,73.58 494.97,73.40 495.12,73.21 495.28,73.03 495.44,72.84 495.60,72.66 495.76,72.48 495.93,72.30 496.10,72.12 496.28,71.95 496.46,71.77 496.64,71.60 496.82,71.43 497.00,71.26 497.19,71.09 497.38,70.92 497.58,70.76 497.77,70.60 497.97,70.44 498.17,70.28 498.37,70.12 498.58,69.97 498.79,69.82 498.99,69.67 499.21,69.52 499.42,69.37 499.63,69.23 499.85,69.09 500.07,68.95 500.29,68.82 500.51,68.69 500.74,68.56 500.96,68.43 501.19,68.30 501.41,68.18 501.64,68.06 501.87,67.95 502.11,67.83 502.34,67.72 502.57,67.61 502.81,67.51 503.04,67.41 503.28,67.31 503.51,67.21 503.75,67.12 503.99,67.03 504.23,66.94 504.47,66.86 504.71,66.78 504.95,66.70 505.19,66.63 505.43,66.55 505.67,66.49 505.91,66.42 506.15,66.36 506.39,66.30 506.63,66.25 506.87,66.20 507.10,66.15 507.34,66.10 507.58,66.06 507.82,66.02 508.05,65.99 508.29,65.96 508.53,65.93 508.76,65.91 508.99,65.88 509.23,65.87 509.46,65.85 509.69,65.84 509.92,65.84 510.14,65.83 510.37,65.83 510.59,65.83 510.82,65.84 511.04,65.85 511.26,65.86 511.48,65.88 511.69,65.90 511.91,65.93 512.12,65.95 512.33,65.98 512.54,66.02 512.75,66.06 512.95,66.10 513.15,66.14 513.35,66.19 513.55,66.24 513.75,66.29 513.94,66.35 514.13,66.41 514.32,66.48 514.50,66.54 514.69,66.61 514.86,66.69 515.04,66.76 515.22,66.84" fill="url(#bg7)"/>
<polygon points="457.21,33.22 456.97,33.10 456.72,32.99 456.46,32.89 456.21,32.79 455.95,32.70 455.68,32.61 455.41,32.52 455.14,32.44 454.86,32.36 454.59,32.29 454.30,32.22 454.02,32.16 453.73,32.10 453.44,32.05 453.14,32.00 452.85,31.96 452.54,31.92 452.24,31.89 451.94,31.86 451.63,31.83 451.32,31.81 451.00,31.80 450.69,31.79 450.37,31.79 450.05,31.79 449.73,31.79 449.41,31.80 449.08,31.82 448.76,31.84 448.43,31.86 448.10,31.89 447.77,31.92 447.44,31.96 447.10,32.01 446.77,32.06 446.43,32.11 446.10,32.17 445.76,32.23 445.42,32.30 445.09,32.37 444.75,32.45 444.41,32.53 444.07,32.62 443.73,32.71 443.39,32.81 443.05,32.91 442.72,33.01 442.38,33.12 442.04,33.24 441.70,33.35 441.37,33.48 441.03,33.60 440.69,33.73 440.36,33.87 440.03,34.01 439.69,34.15 439.36,34.30 439.03,34.46 438.70,34.61 438.38,34.77 438.05,34.94 437.73,35.11 437.41,35.28 437.09,35.45 436.77,35.63 436.45,35.82 436.14,36.00 435.83,36.20 435.52,36.39 435.22,36.59 434.91,36.79 434.61,36.99 434.31,37.20 434.02,37.41 433.73,37.63 433.44,37.84 433.15,38.06 432.87,38.29 432.59,38.51 432.31,38.74 432.04,38.97 431.77,39.21 431.50,39.45 431.24,39.68 430.98,39.93 430.73,40.17 430.48,40.42 430.23,40.67 429.99,40.92 429.75,41.17 429.52,41.43 429.29,41.68 429.06,41.94 428.84,42.20 428.63,42.47 428.42,42.73 428.21,43.00 428.01,43.26 427.81,43.53 427.62,43.80 427.43,44.07 427.25,44.35 427.07,44.62 426.90,44.89 426.73,45.17 426.57,45.44 426.41,45.72 426.26,46.00 426.11,46.28 425.97,46.55 425.84,46.83 425.71,47.11 425.58,47.39 425.46,47.67 425.35,47.95 425.24,48.23 425.14,48.51 425.04,48.79 424.95,49.07 424.86,49.34 424.79,49.62 424.71,49.90 424.64,50.17 424.58,50.45 424.52,50.73 424.47,51.00 424.43,51.27 424.39,51.54 424.36,51.82 424.33,52.09 424.31,52.35 424.29,52.62 424.28,52.89 424.28,53.15 424.28,53.41 424.29,53.67 424.31,53.93 424.33,54.19 424.35,54.44 424.38,54.70 424.42,54.95 424.46,55.20 424.51,55.44 424.57,55.69 424.63,55.93 424.70,56.17 424.77,56.40 424.85,56.64 424.93,56.87 425.02,57.10 425.12,57.32 425.22,57.55 425.33,57.77 425.44,57.98 425.56,58.20 425.68,58.41 425.81,58.62 425.95,58.82 426.09,59.02 426.23,59.22 426.38,59.41 426.54,59.60 426.70,59.79 426.87,59.97 427.04,60.15 427.21,60.33 427.40,60.50 427.58,60.66 427.77,60.83 427.97,60.99 428.17,61.14 428.38,61.30 428.59,61.44 428.80,61.59 429.02,61.73 429.25,61.86 429.48,61.99 429.71,62.12 429.95,62.24 430.19,62.36 488.49,90.01 488.25,89.89 488.01,89.77 487.78,89.64 487.55,89.51 487.32,89.38 487.10,89.24 486.89,89.09 486.68,88.95 486.47,88.79 486.27,88.64 486.07,88.48 485.88,88.31 485.70,88.15 485.51,87.98 485.34,87.80 485.17,87.62 485.00,87.44 484.84,87.25 484.68,87.06 484.53,86.87 484.39,86.67 484.25,86.47 484.11,86.27 483.98,86.06 483.86,85.85 483.74,85.63 483.63,85.42 483.52,85.20 483.42,84.97 483.32,84.75 483.23,84.52 483.15,84.29 483.07,84.05 483.00,83.82 482.93,83.58 482.87,83.34 482.81,83.09 482.76,82.85 482.72,82.60 482.68,82.35 482.65,82.09 482.63,81.84 482.61,81.58 482.59,81.32 482.58,81.06 482.58,80.80 482.58,80.54 482.59,80.27 482.61,80.00 482.63,79.74 482.66,79.47 482.69,79.19 482.73,78.92 482.77,78.65 482.82,78.38 482.88,78.10 482.94,77.82 483.01,77.55 483.09,77.27 483.16,76.99 483.25,76.72 483.34,76.44 483.44,76.16 483.54,75.88 483.65,75.60 483.76,75.32 483.88,75.04 484.01,74.76 484.14,74.48 484.27,74.20 484.41,73.93 484.56,73.65 484.71,73.37 484.87,73.09 485.03,72.82 485.20,72.54 485.37,72.27 485.55,72.00 485.73,71.72 485.92,71.45 486.11,71.18 486.31,70.91 486.51,70.65 486.72,70.38 486.93,70.12 487.14,69.85 487.36,69.59 487.59,69.33 487.82,69.08 488.05,68.82 488.29,68.57 488.53,68.32 488.78,68.07 489.03,67.82 489.28,67.58 489.54,67.33 489.80,67.10 490.07,66.86 490.34,66.62 490.61,66.39 490.89,66.16 491.17,65.94 491.45,65.71 491.74,65.49 492.03,65.28 492.32,65.06 492.61,64.85 492.91,64.64 493.21,64.44 493.52,64.24 493.82,64.04 494.13,63.85 494.44,63.65 494.75,63.47 495.07,63.28 495.39,63.10 495.71,62.93 496.03,62.76 496.35,62.59 496.68,62.42 497.00,62.26 497.33,62.11 497.66,61.95 497.99,61.80 498.33,61.66 498.66,61.52 498.99,61.38 499.33,61.25 499.67,61.13 500.00,61.00 500.34,60.89 500.68,60.77 501.02,60.66 501.35,60.56 501.69,60.46 502.03,60.36 502.37,60.27 502.71,60.18 503.05,60.10 503.39,60.02 503.72,59.95 504.06,59.88 504.40,59.82 504.73,59.76 505.07,59.71 505.40,59.66 505.74,59.61 506.07,59.57 506.40,59.54 506.73,59.51 507.06,59.49 507.38,59.47 507.71,59.45 508.03,59.44 508.35,59.44 508.67,59.44 508.99,59.44 509.30,59.45 509.62,59.46 509.93,59.48 510.24,59.51 510.54,59.54 510.84,59.57 511.15,59.61 511.44,59.65 511.74,59.70 512.03,59.75 512.32,59.81 512.60,59.87 512.89,59.94 513.16,60.01 513.44,60.09 513.71,60.17 513.98,60.26 514.25,60.35 514.51,60.44 514.76,60.54 515.02,60.64 515.27,60.75 515.51,60.87" fill="url(#bg8)"/>
<path d="M405.40 88.55L463.70 116.20M463.70 116.20L540.30 94.95M405.40 88.55L405.40 29.95M405.40 29.95L482.00 8.70M482.00 8.70L540.30 36.35M540.30 94.95L540.30 36.35" stroke="#262626" stroke-width="0.9" fill="none" stroke-linecap="square"/>
<path d="M405.40 79.34L403.18 79.96M405.40 58.41L403.18 59.03M405.40 37.48L403.18 38.10M434.55 102.38L432.33 102.99M475.03 113.06L477.11 114.04M502.00 105.58L504.08 106.56M528.97 98.09L531.05 99.08" stroke="#262626" stroke-width="0.8" fill="none"/>
<text x="400.60" y="40.90" text-anchor="end" font-size="12.00" font-weight="normal" fill="#1a1a1a" stroke="#1a1a1a">50</text>
<text x="400.60" y="62.00" text-anchor="end" font-size="12.00" font-weight="normal" fill="#1a1a1a" stroke="#1a1a1a">0</text>
<text x="400.60" y="82.70" text-anchor="end" font-size="12.00" font-weight="normal" fill="#1a1a1a" stroke="#1a1a1a">-50</text>
<text x="397.50" y="101.40" text-anchor="middle" font-size="12.00" font-weight="normal" fill="#1a1a1a" stroke="#1a1a1a">4</text>
<text x="427.30" y="115.40" text-anchor="middle" font-size="12.00" font-weight="normal" fill="#1a1a1a" stroke="#1a1a1a">2</text>
<text x="456.60" y="128.70" text-anchor="middle" font-size="12.00" font-weight="normal" fill="#1a1a1a" stroke="#1a1a1a">0</text>
<text x="488.40" y="126.90" text-anchor="middle" font-size="12.00" font-weight="normal" fill="#1a1a1a" stroke="#1a1a1a">-50</text>
<text x="510.40" y="119.40" text-anchor="middle" font-size="12.00" font-weight="normal" fill="#1a1a1a" stroke="#1a1a1a">0</text>
<text x="541.00" y="112.30" text-anchor="middle" font-size="12.00" font-weight="normal" fill="#1a1a1a" stroke="#1a1a1a">50</text>
<text x="416.20" y="133.20" text-anchor="middle" font-size="9.30" font-weight="normal" fill="#1a1a1a" stroke="#1a1a1a">z(cm)</text>
<text x="528.60" y="135.80" text-anchor="middle" font-size="9.30" font-weight="normal" fill="#1a1a1a" stroke="#1a1a1a">x(<tspan font-style="italic">&#956;</tspan>m)</text>
<text x="382.00" y="59.00" text-anchor="middle" font-size="9.90" font-weight="normal" fill="#1a1a1a" stroke="#1a1a1a" transform="rotate(-90 382.00 59.00)">y(<tspan font-style="italic">&#956;</tspan>m)</text></g>
</svg></body></html>
